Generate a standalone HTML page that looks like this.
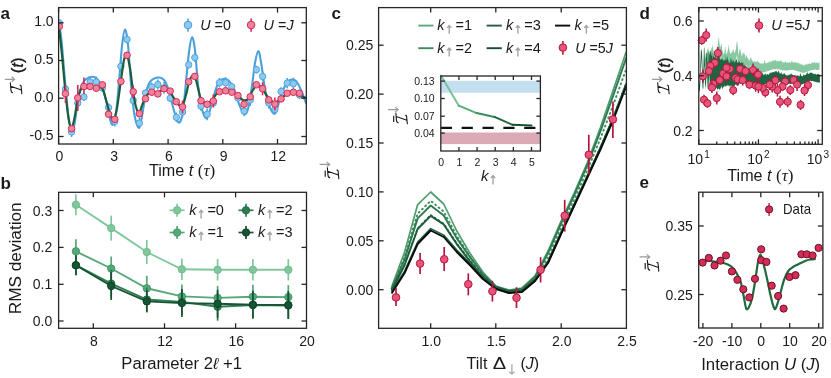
<!DOCTYPE html>
<html><head><meta charset="utf-8"><style>
html,body{margin:0;padding:0;background:#fff;width:831px;height:378px;overflow:hidden}
svg{display:block;font-family:"Liberation Sans",sans-serif}
</style></head><body>
<svg width="831" height="378" viewBox="0 0 831 378">
<rect width="831" height="378" fill="#fff"/>
<g style="opacity:0.999">
<text x="0.5" y="18.6" font-size="17" text-anchor="start" fill="#1a1a1a" font-weight="bold">a</text>
<text x="0.5" y="188.6" font-size="17" text-anchor="start" fill="#1a1a1a" font-weight="bold">b</text>
<text x="331.5" y="18.8" font-size="17" text-anchor="start" fill="#1a1a1a" font-weight="bold">c</text>
<text x="639.5" y="18.8" font-size="17" text-anchor="start" fill="#1a1a1a" font-weight="bold">d</text>
<text x="639.5" y="188" font-size="17" text-anchor="start" fill="#1a1a1a" font-weight="bold">e</text>
<clipPath id="ca"><rect x="58.6" y="7.6" width="247.7" height="136.4"/></clipPath><g clip-path="url(#ca)">
<path d="M58.6,21 C59.08,24.17 60.37,29.17 61.5,40 C62.63,50.83 64.23,73.17 65.4,86 C66.57,98.83 67.48,109.33 68.5,117 C69.52,124.67 70.5,130.83 71.5,132 C72.5,133.17 73.5,128.67 74.5,124 C75.5,119.33 76.5,109.83 77.5,104 C78.5,98.17 79.42,92.83 80.5,89 C81.58,85.17 82.58,82.92 84,81 C85.42,79.08 87.33,78.17 89,77.5 C90.67,76.83 92.5,76.58 94,77 C95.5,77.42 96.67,78.5 98,80 C99.33,81.5 100.67,82.67 102,86 C103.33,89.33 104.83,95.17 106,100 C107.17,104.83 107.92,110.83 109,115 C110.08,119.17 111.33,125.33 112.5,125 C113.67,124.67 114.92,120.17 116,113 C117.08,105.83 118,93.17 119,82 C120,70.83 121,54.75 122,46 C123,37.25 124,29.67 125,29.5 C126,29.33 127,35.92 128,45 C129,54.08 130,72.83 131,84 C132,95.17 133,105.17 134,112 C135,118.83 136.08,122.5 137,125 C137.92,127.5 138.67,128.5 139.5,127 C140.33,125.5 140.92,121.67 142,116 C143.08,110.33 144.67,98.67 146,93 C147.33,87.33 148,84.58 150,82 C152,79.42 155.67,77.83 158,77.5 C160.33,77.17 162.17,77.75 164,80 C165.83,82.25 167.5,86.5 169,91 C170.5,95.5 171.67,102.17 173,107 C174.33,111.83 175.83,117.5 177,120 C178.17,122.5 179,123.5 180,122 C181,120.5 182,117.67 183,111 C184,104.33 185,91.83 186,82 C187,72.17 188,59.45 189,52 C190,44.55 191,37.63 192,37.3 C193,36.97 194,42.22 195,50 C196,57.78 196.83,74.17 198,84 C199.17,93.83 200.67,103.33 202,109 C203.33,114.67 204.83,117.33 206,118 C207.17,118.67 207.83,116.17 209,113 C210.17,109.83 211.67,103.5 213,99 C214.33,94.5 215.5,89.25 217,86 C218.5,82.75 220.17,80.5 222,79.5 C223.83,78.5 226,78.42 228,80 C230,81.58 232.17,85 234,89 C235.83,93 237.33,99.83 239,104 C240.67,108.17 242.5,113.17 244,114 C245.5,114.83 246.67,113.67 248,109 C249.33,104.33 250.83,93.67 252,86 C253.17,78.33 253.95,68.83 255,63 C256.05,57.17 257.3,51.17 258.3,51 C259.3,50.83 259.88,55.67 261,62 C262.12,68.33 263.67,81.83 265,89 C266.33,96.17 267.67,101 269,105 C270.33,109 271.83,111.83 273,113 C274.17,114.17 274.83,114.33 276,112 C277.17,109.67 278.5,103.33 280,99 C281.5,94.67 283.33,89.17 285,86 C286.67,82.83 288.17,80.83 290,80 C291.83,79.17 294.17,79.33 296,81 C297.83,82.67 299.28,86.17 301,90 C302.72,93.83 305.42,101.67 306.3,104" fill="none" stroke="#4aa0da" stroke-width="2.1" stroke-linejoin="round"/>
<line x1="59.3" y1="19.5" x2="59.3" y2="26.5" stroke="#4aa0da" stroke-width="1.5" />
<circle cx="59.3" cy="23" r="3.2" fill="#8dcaf0" stroke="#4a9fdc" stroke-width="0.9"/>
<line x1="65.46" y1="84.7" x2="65.46" y2="93.3" stroke="#4aa0da" stroke-width="1.5" />
<circle cx="65.46" cy="89" r="3.2" fill="#8dcaf0" stroke="#4a9fdc" stroke-width="0.9"/>
<line x1="71.62" y1="126.9" x2="71.62" y2="137.1" stroke="#4aa0da" stroke-width="1.5" />
<circle cx="71.62" cy="132" r="3.2" fill="#8dcaf0" stroke="#4a9fdc" stroke-width="0.9"/>
<line x1="77.78" y1="97.1" x2="77.78" y2="108.9" stroke="#4aa0da" stroke-width="1.5" />
<circle cx="77.78" cy="103" r="3.2" fill="#8dcaf0" stroke="#4a9fdc" stroke-width="0.9"/>
<line x1="83.94" y1="93.1" x2="83.94" y2="100.9" stroke="#4aa0da" stroke-width="1.5" />
<circle cx="83.94" cy="97" r="3.2" fill="#8dcaf0" stroke="#4a9fdc" stroke-width="0.9"/>
<line x1="90.1" y1="77.3" x2="90.1" y2="86.7" stroke="#4aa0da" stroke-width="1.5" />
<circle cx="90.1" cy="82" r="3.2" fill="#8dcaf0" stroke="#4a9fdc" stroke-width="0.9"/>
<line x1="96.26" y1="76.5" x2="96.26" y2="87.5" stroke="#4aa0da" stroke-width="1.5" />
<circle cx="96.26" cy="82" r="3.2" fill="#8dcaf0" stroke="#4a9fdc" stroke-width="0.9"/>
<line x1="102.42" y1="84.5" x2="102.42" y2="91.5" stroke="#4aa0da" stroke-width="1.5" />
<circle cx="102.42" cy="88" r="3.2" fill="#8dcaf0" stroke="#4a9fdc" stroke-width="0.9"/>
<line x1="108.58" y1="103.3" x2="108.58" y2="111.9" stroke="#4aa0da" stroke-width="1.5" />
<circle cx="108.58" cy="107.6" r="3.2" fill="#8dcaf0" stroke="#4a9fdc" stroke-width="0.9"/>
<line x1="114.74" y1="116.3" x2="114.74" y2="126.5" stroke="#4aa0da" stroke-width="1.5" />
<circle cx="114.74" cy="121.4" r="3.2" fill="#8dcaf0" stroke="#4a9fdc" stroke-width="0.9"/>
<line x1="120.9" y1="60.5" x2="120.9" y2="72.3" stroke="#4aa0da" stroke-width="1.5" />
<circle cx="120.9" cy="66.4" r="3.2" fill="#8dcaf0" stroke="#4a9fdc" stroke-width="0.9"/>
<line x1="127.06" y1="35.5" x2="127.06" y2="43.3" stroke="#4aa0da" stroke-width="1.5" />
<circle cx="127.06" cy="39.4" r="3.2" fill="#8dcaf0" stroke="#4a9fdc" stroke-width="0.9"/>
<line x1="133.22" y1="95.7" x2="133.22" y2="105.1" stroke="#4aa0da" stroke-width="1.5" />
<circle cx="133.22" cy="100.4" r="3.2" fill="#8dcaf0" stroke="#4a9fdc" stroke-width="0.9"/>
<line x1="139.38" y1="117.6" x2="139.38" y2="128.6" stroke="#4aa0da" stroke-width="1.5" />
<circle cx="139.38" cy="123.1" r="3.2" fill="#8dcaf0" stroke="#4a9fdc" stroke-width="0.9"/>
<line x1="145.54" y1="89.5" x2="145.54" y2="96.5" stroke="#4aa0da" stroke-width="1.5" />
<circle cx="145.54" cy="93" r="3.2" fill="#8dcaf0" stroke="#4a9fdc" stroke-width="0.9"/>
<line x1="151.7" y1="82.7" x2="151.7" y2="91.3" stroke="#4aa0da" stroke-width="1.5" />
<circle cx="151.7" cy="87" r="3.2" fill="#8dcaf0" stroke="#4a9fdc" stroke-width="0.9"/>
<line x1="157.86" y1="79.4" x2="157.86" y2="89.6" stroke="#4aa0da" stroke-width="1.5" />
<circle cx="157.86" cy="84.5" r="3.2" fill="#8dcaf0" stroke="#4a9fdc" stroke-width="0.9"/>
<line x1="164.02" y1="82" x2="164.02" y2="93.8" stroke="#4aa0da" stroke-width="1.5" />
<circle cx="164.02" cy="87.9" r="3.2" fill="#8dcaf0" stroke="#4a9fdc" stroke-width="0.9"/>
<line x1="170.18" y1="94.3" x2="170.18" y2="102.1" stroke="#4aa0da" stroke-width="1.5" />
<circle cx="170.18" cy="98.2" r="3.2" fill="#8dcaf0" stroke="#4a9fdc" stroke-width="0.9"/>
<line x1="176.34" y1="112.6" x2="176.34" y2="122" stroke="#4aa0da" stroke-width="1.5" />
<circle cx="176.34" cy="117.3" r="3.2" fill="#8dcaf0" stroke="#4a9fdc" stroke-width="0.9"/>
<line x1="182.5" y1="106.5" x2="182.5" y2="117.5" stroke="#4aa0da" stroke-width="1.5" />
<circle cx="182.5" cy="112" r="3.2" fill="#8dcaf0" stroke="#4a9fdc" stroke-width="0.9"/>
<line x1="188.66" y1="61.3" x2="188.66" y2="68.3" stroke="#4aa0da" stroke-width="1.5" />
<circle cx="188.66" cy="64.8" r="3.2" fill="#8dcaf0" stroke="#4a9fdc" stroke-width="0.9"/>
<line x1="194.82" y1="53.3" x2="194.82" y2="61.9" stroke="#4aa0da" stroke-width="1.5" />
<circle cx="194.82" cy="57.6" r="3.2" fill="#8dcaf0" stroke="#4a9fdc" stroke-width="0.9"/>
<line x1="200.98" y1="100.9" x2="200.98" y2="111.1" stroke="#4aa0da" stroke-width="1.5" />
<circle cx="200.98" cy="106" r="3.2" fill="#8dcaf0" stroke="#4a9fdc" stroke-width="0.9"/>
<line x1="207.14" y1="108.4" x2="207.14" y2="120.2" stroke="#4aa0da" stroke-width="1.5" />
<circle cx="207.14" cy="114.3" r="3.2" fill="#8dcaf0" stroke="#4a9fdc" stroke-width="0.9"/>
<line x1="213.3" y1="99.1" x2="213.3" y2="106.9" stroke="#4aa0da" stroke-width="1.5" />
<circle cx="213.3" cy="103" r="3.2" fill="#8dcaf0" stroke="#4a9fdc" stroke-width="0.9"/>
<line x1="219.46" y1="78" x2="219.46" y2="87.4" stroke="#4aa0da" stroke-width="1.5" />
<circle cx="219.46" cy="82.7" r="3.2" fill="#8dcaf0" stroke="#4a9fdc" stroke-width="0.9"/>
<line x1="225.62" y1="77.2" x2="225.62" y2="88.2" stroke="#4aa0da" stroke-width="1.5" />
<circle cx="225.62" cy="82.7" r="3.2" fill="#8dcaf0" stroke="#4a9fdc" stroke-width="0.9"/>
<line x1="231.78" y1="83.2" x2="231.78" y2="90.2" stroke="#4aa0da" stroke-width="1.5" />
<circle cx="231.78" cy="86.7" r="3.2" fill="#8dcaf0" stroke="#4a9fdc" stroke-width="0.9"/>
<line x1="237.94" y1="93.7" x2="237.94" y2="102.3" stroke="#4aa0da" stroke-width="1.5" />
<circle cx="237.94" cy="98" r="3.2" fill="#8dcaf0" stroke="#4a9fdc" stroke-width="0.9"/>
<line x1="244.1" y1="106" x2="244.1" y2="116.2" stroke="#4aa0da" stroke-width="1.5" />
<circle cx="244.1" cy="111.1" r="3.2" fill="#8dcaf0" stroke="#4a9fdc" stroke-width="0.9"/>
<line x1="250.26" y1="94.1" x2="250.26" y2="105.9" stroke="#4aa0da" stroke-width="1.5" />
<circle cx="250.26" cy="100" r="3.2" fill="#8dcaf0" stroke="#4a9fdc" stroke-width="0.9"/>
<line x1="256.42" y1="65.7" x2="256.42" y2="73.5" stroke="#4aa0da" stroke-width="1.5" />
<circle cx="256.42" cy="69.6" r="3.2" fill="#8dcaf0" stroke="#4a9fdc" stroke-width="0.9"/>
<line x1="262.58" y1="71.8" x2="262.58" y2="81.2" stroke="#4aa0da" stroke-width="1.5" />
<circle cx="262.58" cy="76.5" r="3.2" fill="#8dcaf0" stroke="#4a9fdc" stroke-width="0.9"/>
<line x1="268.74" y1="97.5" x2="268.74" y2="108.5" stroke="#4aa0da" stroke-width="1.5" />
<circle cx="268.74" cy="103" r="3.2" fill="#8dcaf0" stroke="#4a9fdc" stroke-width="0.9"/>
<line x1="274.9" y1="105.9" x2="274.9" y2="112.9" stroke="#4aa0da" stroke-width="1.5" />
<circle cx="274.9" cy="109.4" r="3.2" fill="#8dcaf0" stroke="#4a9fdc" stroke-width="0.9"/>
<line x1="281.06" y1="87.2" x2="281.06" y2="95.8" stroke="#4aa0da" stroke-width="1.5" />
<circle cx="281.06" cy="91.5" r="3.2" fill="#8dcaf0" stroke="#4a9fdc" stroke-width="0.9"/>
<line x1="287.22" y1="78" x2="287.22" y2="88.2" stroke="#4aa0da" stroke-width="1.5" />
<circle cx="287.22" cy="83.1" r="3.2" fill="#8dcaf0" stroke="#4a9fdc" stroke-width="0.9"/>
<line x1="293.38" y1="77.8" x2="293.38" y2="89.6" stroke="#4aa0da" stroke-width="1.5" />
<circle cx="293.38" cy="83.7" r="3.2" fill="#8dcaf0" stroke="#4a9fdc" stroke-width="0.9"/>
<line x1="299.54" y1="91.1" x2="299.54" y2="98.9" stroke="#4aa0da" stroke-width="1.5" />
<circle cx="299.54" cy="95" r="3.2" fill="#8dcaf0" stroke="#4a9fdc" stroke-width="0.9"/>
<path d="M58.6,24 C59.17,29.17 60.87,43.67 62,55 C63.13,66.33 64.32,81.5 65.4,92 C66.48,102.5 67.48,112 68.5,118 C69.52,124 70.5,128 71.5,128 C72.5,128 73.5,122.67 74.5,118 C75.5,113.33 76.5,104.67 77.5,100 C78.5,95.33 79.42,92.25 80.5,90 C81.58,87.75 82.42,87.17 84,86.5 C85.58,85.83 88,85.83 90,86 C92,86.17 94,87.17 96,87.5 C98,87.83 100.33,85.92 102,88 C103.67,90.08 104.67,95.67 106,100 C107.33,104.33 108.67,110.83 110,114 C111.33,117.17 112.83,120 114,119 C115.17,118 115.83,114.5 117,108 C118.17,101.5 119.83,88 121,80 C122.17,72 123.03,64.17 124,60 C124.97,55.83 125.8,53.67 126.8,55 C127.8,56.33 128.97,62 130,68 C131.03,74 132,84.5 133,91 C134,97.5 134.97,103.42 136,107 C137.03,110.58 138.03,113.17 139.2,112.5 C140.37,111.83 141.7,105.92 143,103 C144.3,100.08 145.5,96.83 147,95 C148.5,93.17 150.17,92.5 152,92 C153.83,91.5 156,92.33 158,92 C160,91.67 162,90 164,90 C166,90 168.17,90.33 170,92 C171.83,93.67 173.5,97.83 175,100 C176.5,102.17 177.75,104.08 179,105 C180.25,105.92 181.33,107.17 182.5,105.5 C183.67,103.83 184.92,98.92 186,95 C187.08,91.08 188,85.17 189,82 C190,78.83 191,76.83 192,76 C193,75.17 194,75 195,77 C196,79 197,84.33 198,88 C199,91.67 199.67,96.42 201,99 C202.33,101.58 204.17,103.33 206,103.5 C207.83,103.67 210,101.92 212,100 C214,98.08 215.83,93.67 218,92 C220.17,90.33 222.67,90 225,90 C227.33,90 229.83,91 232,92 C234.17,93 236.17,94.67 238,96 C239.83,97.33 241.33,99.5 243,100 C244.67,100.5 246.33,100.67 248,99 C249.67,97.33 251.5,92.33 253,90 C254.5,87.67 255.5,85.33 257,85 C258.5,84.67 260.33,86.17 262,88 C263.67,89.83 265.17,93.67 267,96 C268.83,98.33 271.17,101.17 273,102 C274.83,102.83 276.17,102 278,101 C279.83,100 282,97.33 284,96 C286,94.67 288,93.33 290,93 C292,92.67 293.28,93.17 296,94 C298.72,94.83 304.58,97.33 306.3,98" fill="none" stroke="#1b5e3b" stroke-width="2.2" stroke-linejoin="round"/>
<line x1="59.3" y1="23.5" x2="59.3" y2="29.5" stroke="#d42a5a" stroke-width="1.6" />
<circle cx="59.3" cy="26.5" r="3.3" fill="#f0839a" stroke="#d42a5a" stroke-width="1.0"/>
<line x1="65.46" y1="85" x2="65.46" y2="103" stroke="#d42a5a" stroke-width="1.6" />
<circle cx="65.46" cy="93.6" r="3.3" fill="#f0839a" stroke="#d42a5a" stroke-width="1.0"/>
<line x1="71.62" y1="125.6" x2="71.62" y2="131.6" stroke="#d42a5a" stroke-width="1.6" />
<circle cx="71.62" cy="128.6" r="3.3" fill="#f0839a" stroke="#d42a5a" stroke-width="1.0"/>
<line x1="77.78" y1="85" x2="77.78" y2="111" stroke="#d42a5a" stroke-width="1.6" />
<circle cx="77.78" cy="97.9" r="3.3" fill="#f0839a" stroke="#d42a5a" stroke-width="1.0"/>
<line x1="83.94" y1="77.6" x2="83.94" y2="93.9" stroke="#d42a5a" stroke-width="1.6" />
<circle cx="83.94" cy="86.5" r="3.3" fill="#f0839a" stroke="#d42a5a" stroke-width="1.0"/>
<line x1="90.1" y1="83.5" x2="90.1" y2="89.5" stroke="#d42a5a" stroke-width="1.6" />
<circle cx="90.1" cy="86.5" r="3.3" fill="#f0839a" stroke="#d42a5a" stroke-width="1.0"/>
<line x1="96.26" y1="85.2" x2="96.26" y2="91.2" stroke="#d42a5a" stroke-width="1.6" />
<circle cx="96.26" cy="88.2" r="3.3" fill="#f0839a" stroke="#d42a5a" stroke-width="1.0"/>
<line x1="102.42" y1="81.8" x2="102.42" y2="87.8" stroke="#d42a5a" stroke-width="1.6" />
<circle cx="102.42" cy="84.8" r="3.3" fill="#f0839a" stroke="#d42a5a" stroke-width="1.0"/>
<line x1="108.58" y1="111.2" x2="108.58" y2="117.2" stroke="#d42a5a" stroke-width="1.6" />
<circle cx="108.58" cy="114.2" r="3.3" fill="#f0839a" stroke="#d42a5a" stroke-width="1.0"/>
<line x1="114.74" y1="116.3" x2="114.74" y2="122.3" stroke="#d42a5a" stroke-width="1.6" />
<circle cx="114.74" cy="119.3" r="3.3" fill="#f0839a" stroke="#d42a5a" stroke-width="1.0"/>
<line x1="120.9" y1="78.4" x2="120.9" y2="84.4" stroke="#d42a5a" stroke-width="1.6" />
<circle cx="120.9" cy="81.4" r="3.3" fill="#f0839a" stroke="#d42a5a" stroke-width="1.0"/>
<line x1="127.06" y1="52.3" x2="127.06" y2="58.3" stroke="#d42a5a" stroke-width="1.6" />
<circle cx="127.06" cy="55.3" r="3.3" fill="#f0839a" stroke="#d42a5a" stroke-width="1.0"/>
<line x1="133.22" y1="85.2" x2="133.22" y2="98.2" stroke="#d42a5a" stroke-width="1.6" />
<circle cx="133.22" cy="91.7" r="3.3" fill="#f0839a" stroke="#d42a5a" stroke-width="1.0"/>
<line x1="139.38" y1="110.7" x2="139.38" y2="116.7" stroke="#d42a5a" stroke-width="1.6" />
<circle cx="139.38" cy="113.7" r="3.3" fill="#f0839a" stroke="#d42a5a" stroke-width="1.0"/>
<line x1="145.54" y1="95.7" x2="145.54" y2="101.7" stroke="#d42a5a" stroke-width="1.6" />
<circle cx="145.54" cy="98.7" r="3.3" fill="#f0839a" stroke="#d42a5a" stroke-width="1.0"/>
<line x1="151.7" y1="89.2" x2="151.7" y2="95.2" stroke="#d42a5a" stroke-width="1.6" />
<circle cx="151.7" cy="92.2" r="3.3" fill="#f0839a" stroke="#d42a5a" stroke-width="1.0"/>
<line x1="157.86" y1="90.9" x2="157.86" y2="96.9" stroke="#d42a5a" stroke-width="1.6" />
<circle cx="157.86" cy="93.9" r="3.3" fill="#f0839a" stroke="#d42a5a" stroke-width="1.0"/>
<line x1="164.02" y1="85.7" x2="164.02" y2="91.7" stroke="#d42a5a" stroke-width="1.6" />
<circle cx="164.02" cy="88.7" r="3.3" fill="#f0839a" stroke="#d42a5a" stroke-width="1.0"/>
<line x1="170.18" y1="88.1" x2="170.18" y2="94.1" stroke="#d42a5a" stroke-width="1.6" />
<circle cx="170.18" cy="91.1" r="3.3" fill="#f0839a" stroke="#d42a5a" stroke-width="1.0"/>
<line x1="176.34" y1="98.7" x2="176.34" y2="104.7" stroke="#d42a5a" stroke-width="1.6" />
<circle cx="176.34" cy="101.7" r="3.3" fill="#f0839a" stroke="#d42a5a" stroke-width="1.0"/>
<line x1="182.5" y1="100.4" x2="182.5" y2="113.4" stroke="#d42a5a" stroke-width="1.6" />
<circle cx="182.5" cy="106.9" r="3.3" fill="#f0839a" stroke="#d42a5a" stroke-width="1.0"/>
<line x1="188.66" y1="78.8" x2="188.66" y2="84.8" stroke="#d42a5a" stroke-width="1.6" />
<circle cx="188.66" cy="81.8" r="3.3" fill="#f0839a" stroke="#d42a5a" stroke-width="1.0"/>
<line x1="194.82" y1="73.4" x2="194.82" y2="79.4" stroke="#d42a5a" stroke-width="1.6" />
<circle cx="194.82" cy="76.4" r="3.3" fill="#f0839a" stroke="#d42a5a" stroke-width="1.0"/>
<line x1="200.98" y1="97.7" x2="200.98" y2="103.7" stroke="#d42a5a" stroke-width="1.6" />
<circle cx="200.98" cy="100.7" r="3.3" fill="#f0839a" stroke="#d42a5a" stroke-width="1.0"/>
<line x1="207.14" y1="101.3" x2="207.14" y2="107.3" stroke="#d42a5a" stroke-width="1.6" />
<circle cx="207.14" cy="104.3" r="3.3" fill="#f0839a" stroke="#d42a5a" stroke-width="1.0"/>
<line x1="213.3" y1="94.6" x2="213.3" y2="107.6" stroke="#d42a5a" stroke-width="1.6" />
<circle cx="213.3" cy="101.1" r="3.3" fill="#f0839a" stroke="#d42a5a" stroke-width="1.0"/>
<line x1="219.46" y1="88.7" x2="219.46" y2="94.7" stroke="#d42a5a" stroke-width="1.6" />
<circle cx="219.46" cy="91.7" r="3.3" fill="#f0839a" stroke="#d42a5a" stroke-width="1.0"/>
<line x1="225.62" y1="87.8" x2="225.62" y2="93.8" stroke="#d42a5a" stroke-width="1.6" />
<circle cx="225.62" cy="90.8" r="3.3" fill="#f0839a" stroke="#d42a5a" stroke-width="1.0"/>
<line x1="231.78" y1="89.2" x2="231.78" y2="95.2" stroke="#d42a5a" stroke-width="1.6" />
<circle cx="231.78" cy="92.2" r="3.3" fill="#f0839a" stroke="#d42a5a" stroke-width="1.0"/>
<line x1="237.94" y1="92.6" x2="237.94" y2="98.6" stroke="#d42a5a" stroke-width="1.6" />
<circle cx="237.94" cy="95.6" r="3.3" fill="#f0839a" stroke="#d42a5a" stroke-width="1.0"/>
<line x1="244.1" y1="101.2" x2="244.1" y2="107.2" stroke="#d42a5a" stroke-width="1.6" />
<circle cx="244.1" cy="104.2" r="3.3" fill="#f0839a" stroke="#d42a5a" stroke-width="1.0"/>
<line x1="250.26" y1="93.8" x2="250.26" y2="99.8" stroke="#d42a5a" stroke-width="1.6" />
<circle cx="250.26" cy="96.8" r="3.3" fill="#f0839a" stroke="#d42a5a" stroke-width="1.0"/>
<line x1="256.42" y1="81.8" x2="256.42" y2="87.8" stroke="#d42a5a" stroke-width="1.6" />
<circle cx="256.42" cy="84.8" r="3.3" fill="#f0839a" stroke="#d42a5a" stroke-width="1.0"/>
<line x1="262.58" y1="82.2" x2="262.58" y2="95.2" stroke="#d42a5a" stroke-width="1.6" />
<circle cx="262.58" cy="88.7" r="3.3" fill="#f0839a" stroke="#d42a5a" stroke-width="1.0"/>
<line x1="268.74" y1="96.9" x2="268.74" y2="102.9" stroke="#d42a5a" stroke-width="1.6" />
<circle cx="268.74" cy="99.9" r="3.3" fill="#f0839a" stroke="#d42a5a" stroke-width="1.0"/>
<line x1="274.9" y1="97.6" x2="274.9" y2="110.6" stroke="#d42a5a" stroke-width="1.6" />
<circle cx="274.9" cy="104.1" r="3.3" fill="#f0839a" stroke="#d42a5a" stroke-width="1.0"/>
<line x1="281.06" y1="95.9" x2="281.06" y2="101.9" stroke="#d42a5a" stroke-width="1.6" />
<circle cx="281.06" cy="98.9" r="3.3" fill="#f0839a" stroke="#d42a5a" stroke-width="1.0"/>
<line x1="287.22" y1="90.2" x2="287.22" y2="96.2" stroke="#d42a5a" stroke-width="1.6" />
<circle cx="287.22" cy="93.2" r="3.3" fill="#f0839a" stroke="#d42a5a" stroke-width="1.0"/>
<line x1="293.38" y1="89.3" x2="293.38" y2="95.3" stroke="#d42a5a" stroke-width="1.6" />
<circle cx="293.38" cy="92.3" r="3.3" fill="#f0839a" stroke="#d42a5a" stroke-width="1.0"/>
<line x1="299.54" y1="90.3" x2="299.54" y2="96.3" stroke="#d42a5a" stroke-width="1.6" />
<circle cx="299.54" cy="93.3" r="3.3" fill="#f0839a" stroke="#d42a5a" stroke-width="1.0"/>
</g>
<rect x="58.6" y="7.6" width="247.7" height="136.4" fill="none" stroke="#262626" stroke-width="1.3"/>
<line x1="58.6" y1="144" x2="58.6" y2="139" stroke="#262626" stroke-width="1.3" />
<line x1="58.6" y1="7.6" x2="58.6" y2="12.6" stroke="#262626" stroke-width="1.3" />
<line x1="113.3" y1="144" x2="113.3" y2="139" stroke="#262626" stroke-width="1.3" />
<line x1="113.3" y1="7.6" x2="113.3" y2="12.6" stroke="#262626" stroke-width="1.3" />
<line x1="168.1" y1="144" x2="168.1" y2="139" stroke="#262626" stroke-width="1.3" />
<line x1="168.1" y1="7.6" x2="168.1" y2="12.6" stroke="#262626" stroke-width="1.3" />
<line x1="222.8" y1="144" x2="222.8" y2="139" stroke="#262626" stroke-width="1.3" />
<line x1="222.8" y1="7.6" x2="222.8" y2="12.6" stroke="#262626" stroke-width="1.3" />
<line x1="277.5" y1="144" x2="277.5" y2="139" stroke="#262626" stroke-width="1.3" />
<line x1="277.5" y1="7.6" x2="277.5" y2="12.6" stroke="#262626" stroke-width="1.3" />
<line x1="58.6" y1="22.8" x2="63.6" y2="22.8" stroke="#262626" stroke-width="1.3" />
<line x1="306.3" y1="22.8" x2="301.3" y2="22.8" stroke="#262626" stroke-width="1.3" />
<line x1="58.6" y1="60.5" x2="63.6" y2="60.5" stroke="#262626" stroke-width="1.3" />
<line x1="306.3" y1="60.5" x2="301.3" y2="60.5" stroke="#262626" stroke-width="1.3" />
<line x1="58.6" y1="98.2" x2="63.6" y2="98.2" stroke="#262626" stroke-width="1.3" />
<line x1="306.3" y1="98.2" x2="301.3" y2="98.2" stroke="#262626" stroke-width="1.3" />
<line x1="58.6" y1="136.5" x2="63.6" y2="136.5" stroke="#262626" stroke-width="1.3" />
<line x1="306.3" y1="136.5" x2="301.3" y2="136.5" stroke="#262626" stroke-width="1.3" />
<text x="53.6" y="26.4" font-size="14" text-anchor="end" fill="#1a1a1a" >1.0</text>
<text x="53.6" y="64.1" font-size="14" text-anchor="end" fill="#1a1a1a" >0.5</text>
<text x="53.6" y="101.8" font-size="14" text-anchor="end" fill="#1a1a1a" >0.0</text>
<text x="53.6" y="140.1" font-size="14" text-anchor="end" fill="#1a1a1a" >-0.5</text>
<text x="59.4" y="161.2" font-size="14" text-anchor="middle" fill="#1a1a1a" >0</text>
<text x="114.1" y="161.2" font-size="14" text-anchor="middle" fill="#1a1a1a" >3</text>
<text x="168.9" y="161.2" font-size="14" text-anchor="middle" fill="#1a1a1a" >6</text>
<text x="223.6" y="161.2" font-size="14" text-anchor="middle" fill="#1a1a1a" >9</text>
<text x="278.3" y="161.2" font-size="14" text-anchor="middle" fill="#1a1a1a" >12</text>
<text x="149" y="176.3" font-size="16" text-anchor="start" fill="#1a1a1a" textLength="66.3" lengthAdjust="spacingAndGlyphs" >Time <tspan font-style="italic">t</tspan> <tspan font-family="Liberation Serif" font-size="17">(<tspan font-style="italic">τ</tspan>)</tspan></text>
<line x1="188" y1="18.4" x2="188" y2="31.8" stroke="#4aa0da" stroke-width="1.6" />
<circle cx="188" cy="25" r="3.8" fill="#8dcaf0" stroke="#4a9fdc" stroke-width="1"/>
<text x="200.3" y="29.8" font-size="15" text-anchor="start" fill="#1a1a1a" textLength="30.6" lengthAdjust="spacingAndGlyphs" ><tspan font-style="italic">U</tspan> =0</text>
<line x1="251.1" y1="18.4" x2="251.1" y2="31.8" stroke="#d42a5a" stroke-width="1.6" />
<circle cx="251.1" cy="25" r="3.8" fill="#f0839a" stroke="#d42a5a" stroke-width="1"/>
<text x="263.6" y="29.8" font-size="15" text-anchor="start" fill="#1a1a1a" textLength="30" lengthAdjust="spacingAndGlyphs" ><tspan font-style="italic">U</tspan> =<tspan font-style="italic">J</tspan></text>
<g transform="translate(22,93.7) rotate(-90)">
<path d="M1,-9.3 C1.2,-10.6 2.5,-11 4,-11.1 L10.8,-11.6 M7.4,-11.3 L3.6,-0.6 M0,-0.2 L7.6,-0.9 C8.3,-1 8.6,-1.5 8.5,-2" transform="translate(0,0) scale(1.0)" fill="none" stroke="#1a1a1a" stroke-width="1.1" stroke-linecap="round"/>
<path d="M14.4,-17.2 L14.4,-7.4 M11.9,-10.4 L14.4,-7.4 L16.9,-10.4" fill="none" stroke="#9a9a9a" stroke-width="1.2"/>
<text x="20.4" y="0.6" font-size="17" text-anchor="start" fill="#1a1a1a" stroke="#1a1a1a" stroke-width="0.35">(<tspan font-style="italic">t</tspan>)</text>
</g>
<path d="M75.9,204.8 L111.2,228.1 L146.8,252 L181.9,269.3 L217.6,269.8 L252.9,269.8 L288.3,269.8" fill="none" stroke="#80c89c" stroke-width="1.9"/>
<line x1="75.9" y1="194.3" x2="75.9" y2="215.3" stroke="#80c89c" stroke-width="1.7" />
<circle cx="75.9" cy="204.8" r="3.7" fill="#80c89c" stroke="#6bb98a" stroke-width="0.9"/>
<line x1="111.2" y1="215.6" x2="111.2" y2="240.6" stroke="#80c89c" stroke-width="1.7" />
<circle cx="111.2" cy="228.1" r="3.7" fill="#80c89c" stroke="#6bb98a" stroke-width="0.9"/>
<line x1="146.8" y1="240" x2="146.8" y2="264" stroke="#80c89c" stroke-width="1.7" />
<circle cx="146.8" cy="252" r="3.7" fill="#80c89c" stroke="#6bb98a" stroke-width="0.9"/>
<line x1="181.9" y1="258.6" x2="181.9" y2="280" stroke="#80c89c" stroke-width="1.7" />
<circle cx="181.9" cy="269.3" r="3.7" fill="#80c89c" stroke="#6bb98a" stroke-width="0.9"/>
<line x1="217.6" y1="259.1" x2="217.6" y2="280.5" stroke="#80c89c" stroke-width="1.7" />
<circle cx="217.6" cy="269.8" r="3.7" fill="#80c89c" stroke="#6bb98a" stroke-width="0.9"/>
<line x1="252.9" y1="259.1" x2="252.9" y2="280.5" stroke="#80c89c" stroke-width="1.7" />
<circle cx="252.9" cy="269.8" r="3.7" fill="#80c89c" stroke="#6bb98a" stroke-width="0.9"/>
<line x1="288.3" y1="259.1" x2="288.3" y2="280.5" stroke="#80c89c" stroke-width="1.7" />
<circle cx="288.3" cy="269.8" r="3.7" fill="#80c89c" stroke="#6bb98a" stroke-width="0.9"/>
<path d="M75.9,251.3 L111.2,268.5 L146.8,288.3 L181.9,296.4 L217.6,297.9 L252.9,296.7 L288.3,297.1" fill="none" stroke="#55a878" stroke-width="1.9"/>
<line x1="75.9" y1="239.3" x2="75.9" y2="263.3" stroke="#55a878" stroke-width="1.7" />
<circle cx="75.9" cy="251.3" r="3.7" fill="#55a878" stroke="#3f9566" stroke-width="0.9"/>
<line x1="111.2" y1="256.5" x2="111.2" y2="280.5" stroke="#55a878" stroke-width="1.7" />
<circle cx="111.2" cy="268.5" r="3.7" fill="#55a878" stroke="#3f9566" stroke-width="0.9"/>
<line x1="146.8" y1="275.8" x2="146.8" y2="300.8" stroke="#55a878" stroke-width="1.7" />
<circle cx="146.8" cy="288.3" r="3.7" fill="#55a878" stroke="#3f9566" stroke-width="0.9"/>
<line x1="181.9" y1="284.4" x2="181.9" y2="308.4" stroke="#55a878" stroke-width="1.7" />
<circle cx="181.9" cy="296.4" r="3.7" fill="#55a878" stroke="#3f9566" stroke-width="0.9"/>
<line x1="217.6" y1="285.9" x2="217.6" y2="309.9" stroke="#55a878" stroke-width="1.7" />
<circle cx="217.6" cy="297.9" r="3.7" fill="#55a878" stroke="#3f9566" stroke-width="0.9"/>
<line x1="252.9" y1="284.7" x2="252.9" y2="308.7" stroke="#55a878" stroke-width="1.7" />
<circle cx="252.9" cy="296.7" r="3.7" fill="#55a878" stroke="#3f9566" stroke-width="0.9"/>
<line x1="288.3" y1="285.1" x2="288.3" y2="309.1" stroke="#55a878" stroke-width="1.7" />
<circle cx="288.3" cy="297.1" r="3.7" fill="#55a878" stroke="#3f9566" stroke-width="0.9"/>
<path d="M75.9,265.2 L111.2,283.6 L146.8,299.5 L181.9,301.9 L217.6,306.7 L252.9,305 L288.3,305.5" fill="none" stroke="#2e7d52" stroke-width="1.9"/>
<line x1="75.9" y1="255.2" x2="75.9" y2="275.2" stroke="#2e7d52" stroke-width="1.7" />
<circle cx="75.9" cy="265.2" r="3.7" fill="#2e7d52" stroke="#216a43" stroke-width="0.9"/>
<line x1="111.2" y1="269.6" x2="111.2" y2="297.6" stroke="#2e7d52" stroke-width="1.7" />
<circle cx="111.2" cy="283.6" r="3.7" fill="#2e7d52" stroke="#216a43" stroke-width="0.9"/>
<line x1="146.8" y1="287.5" x2="146.8" y2="311.5" stroke="#2e7d52" stroke-width="1.7" />
<circle cx="146.8" cy="299.5" r="3.7" fill="#2e7d52" stroke="#216a43" stroke-width="0.9"/>
<line x1="181.9" y1="288.9" x2="181.9" y2="314.9" stroke="#2e7d52" stroke-width="1.7" />
<circle cx="181.9" cy="301.9" r="3.7" fill="#2e7d52" stroke="#216a43" stroke-width="0.9"/>
<line x1="217.6" y1="292.7" x2="217.6" y2="320.7" stroke="#2e7d52" stroke-width="1.7" />
<circle cx="217.6" cy="306.7" r="3.7" fill="#2e7d52" stroke="#216a43" stroke-width="0.9"/>
<line x1="252.9" y1="292" x2="252.9" y2="318" stroke="#2e7d52" stroke-width="1.7" />
<circle cx="252.9" cy="305" r="3.7" fill="#2e7d52" stroke="#216a43" stroke-width="0.9"/>
<line x1="288.3" y1="292.5" x2="288.3" y2="318.5" stroke="#2e7d52" stroke-width="1.7" />
<circle cx="288.3" cy="305.5" r="3.7" fill="#2e7d52" stroke="#216a43" stroke-width="0.9"/>
<path d="M75.9,265.3 L111.2,286 L146.8,301.4 L181.9,303.1 L217.6,303.8 L252.9,304.8 L288.3,305" fill="none" stroke="#175433" stroke-width="1.9"/>
<line x1="75.9" y1="255.3" x2="75.9" y2="275.3" stroke="#175433" stroke-width="1.7" />
<circle cx="75.9" cy="265.3" r="3.7" fill="#175433" stroke="#0f4026" stroke-width="0.9"/>
<line x1="111.2" y1="272" x2="111.2" y2="300" stroke="#175433" stroke-width="1.7" />
<circle cx="111.2" cy="286" r="3.7" fill="#175433" stroke="#0f4026" stroke-width="0.9"/>
<line x1="146.8" y1="290.4" x2="146.8" y2="312.4" stroke="#175433" stroke-width="1.7" />
<circle cx="146.8" cy="301.4" r="3.7" fill="#175433" stroke="#0f4026" stroke-width="0.9"/>
<line x1="181.9" y1="289.1" x2="181.9" y2="317.1" stroke="#175433" stroke-width="1.7" />
<circle cx="181.9" cy="303.1" r="3.7" fill="#175433" stroke="#0f4026" stroke-width="0.9"/>
<line x1="217.6" y1="289.8" x2="217.6" y2="317.8" stroke="#175433" stroke-width="1.7" />
<circle cx="217.6" cy="303.8" r="3.7" fill="#175433" stroke="#0f4026" stroke-width="0.9"/>
<line x1="252.9" y1="290.8" x2="252.9" y2="318.8" stroke="#175433" stroke-width="1.7" />
<circle cx="252.9" cy="304.8" r="3.7" fill="#175433" stroke="#0f4026" stroke-width="0.9"/>
<line x1="288.3" y1="291" x2="288.3" y2="319" stroke="#175433" stroke-width="1.7" />
<circle cx="288.3" cy="305" r="3.7" fill="#175433" stroke="#0f4026" stroke-width="0.9"/>
<rect x="58.6" y="192.3" width="247.9" height="136" fill="none" stroke="#262626" stroke-width="1.3"/>
<line x1="93.3" y1="328.3" x2="93.3" y2="323.3" stroke="#262626" stroke-width="1.3" />
<line x1="93.3" y1="192.3" x2="93.3" y2="197.3" stroke="#262626" stroke-width="1.3" />
<line x1="164.5" y1="328.3" x2="164.5" y2="323.3" stroke="#262626" stroke-width="1.3" />
<line x1="164.5" y1="192.3" x2="164.5" y2="197.3" stroke="#262626" stroke-width="1.3" />
<line x1="235.6" y1="328.3" x2="235.6" y2="323.3" stroke="#262626" stroke-width="1.3" />
<line x1="235.6" y1="192.3" x2="235.6" y2="197.3" stroke="#262626" stroke-width="1.3" />
<line x1="58.6" y1="321" x2="63.6" y2="321" stroke="#262626" stroke-width="1.3" />
<line x1="306.5" y1="321" x2="301.5" y2="321" stroke="#262626" stroke-width="1.3" />
<line x1="58.6" y1="284.3" x2="63.6" y2="284.3" stroke="#262626" stroke-width="1.3" />
<line x1="306.5" y1="284.3" x2="301.5" y2="284.3" stroke="#262626" stroke-width="1.3" />
<line x1="58.6" y1="247.4" x2="63.6" y2="247.4" stroke="#262626" stroke-width="1.3" />
<line x1="306.5" y1="247.4" x2="301.5" y2="247.4" stroke="#262626" stroke-width="1.3" />
<line x1="58.6" y1="210.5" x2="63.6" y2="210.5" stroke="#262626" stroke-width="1.3" />
<line x1="306.5" y1="210.5" x2="301.5" y2="210.5" stroke="#262626" stroke-width="1.3" />
<text x="52.2" y="326" font-size="14" text-anchor="end" fill="#1a1a1a" >0.0</text>
<text x="52.2" y="289.3" font-size="14" text-anchor="end" fill="#1a1a1a" >0.1</text>
<text x="52.2" y="252.4" font-size="14" text-anchor="end" fill="#1a1a1a" >0.2</text>
<text x="52.2" y="215.5" font-size="14" text-anchor="end" fill="#1a1a1a" >0.3</text>
<text x="93.9" y="345.6" font-size="14" text-anchor="middle" fill="#1a1a1a" >8</text>
<text x="165.1" y="345.6" font-size="14" text-anchor="middle" fill="#1a1a1a" >12</text>
<text x="236.2" y="345.6" font-size="14" text-anchor="middle" fill="#1a1a1a" >16</text>
<text x="307.1" y="345.6" font-size="14" text-anchor="middle" fill="#1a1a1a" >20</text>
<text x="121.3" y="368.6" font-size="16" text-anchor="start" fill="#1a1a1a" textLength="120.6" lengthAdjust="spacingAndGlyphs" >Parameter 2<tspan font-style="italic">ℓ</tspan> +1</text>
<line x1="169.6" y1="210.3" x2="184.6" y2="210.3" stroke="#80c89c" stroke-width="1.7" />
<line x1="177.1" y1="203.8" x2="177.1" y2="216.8" stroke="#80c89c" stroke-width="1.7" />
<circle cx="177.1" cy="210.3" r="3.7" fill="#80c89c" stroke="#6bb98a" stroke-width="0.9"/>
<text x="189.2" y="214.8" font-size="14.5" text-anchor="start" fill="#1a1a1a" ><tspan font-style="italic">k</tspan></text>
<path d="M201.1,218.5 L201.1,210.2 M199,212.6 L201.1,210.2 L203.2,212.6" fill="none" stroke="#a3a3a3" stroke-width="1.35"/>
<text x="207.4" y="214.8" font-size="14.5" text-anchor="start" fill="#1a1a1a" >=0</text>
<line x1="169.6" y1="232.5" x2="184.6" y2="232.5" stroke="#55a878" stroke-width="1.7" />
<line x1="177.1" y1="226" x2="177.1" y2="239" stroke="#55a878" stroke-width="1.7" />
<circle cx="177.1" cy="232.5" r="3.7" fill="#55a878" stroke="#3f9566" stroke-width="0.9"/>
<text x="189.2" y="237" font-size="14.5" text-anchor="start" fill="#1a1a1a" ><tspan font-style="italic">k</tspan></text>
<path d="M201.1,240.7 L201.1,232.4 M199,234.8 L201.1,232.4 L203.2,234.8" fill="none" stroke="#a3a3a3" stroke-width="1.35"/>
<text x="207.4" y="237" font-size="14.5" text-anchor="start" fill="#1a1a1a" >=1</text>
<line x1="238.5" y1="210.3" x2="253.5" y2="210.3" stroke="#2e7d52" stroke-width="1.7" />
<line x1="246" y1="203.8" x2="246" y2="216.8" stroke="#2e7d52" stroke-width="1.7" />
<circle cx="246" cy="210.3" r="3.7" fill="#2e7d52" stroke="#216a43" stroke-width="0.9"/>
<text x="257.9" y="214.8" font-size="14.5" text-anchor="start" fill="#1a1a1a" ><tspan font-style="italic">k</tspan></text>
<path d="M269.8,218.5 L269.8,210.2 M267.7,212.6 L269.8,210.2 L271.9,212.6" fill="none" stroke="#a3a3a3" stroke-width="1.35"/>
<text x="276.1" y="214.8" font-size="14.5" text-anchor="start" fill="#1a1a1a" >=2</text>
<line x1="238.5" y1="232.5" x2="253.5" y2="232.5" stroke="#175433" stroke-width="1.7" />
<line x1="246" y1="226" x2="246" y2="239" stroke="#175433" stroke-width="1.7" />
<circle cx="246" cy="232.5" r="3.7" fill="#175433" stroke="#0f4026" stroke-width="0.9"/>
<text x="257.9" y="237" font-size="14.5" text-anchor="start" fill="#1a1a1a" ><tspan font-style="italic">k</tspan></text>
<path d="M269.8,240.7 L269.8,232.4 M267.7,234.8 L269.8,232.4 L271.9,234.8" fill="none" stroke="#a3a3a3" stroke-width="1.35"/>
<text x="276.1" y="237" font-size="14.5" text-anchor="start" fill="#1a1a1a" >=3</text>
<g transform="translate(20.6,314.2) rotate(-90)">
<text x="0" y="0" font-size="16" text-anchor="start" fill="#1a1a1a" textLength="111.8" lengthAdjust="spacingAndGlyphs" >RMS deviation</text>
</g>
<path d="M391.58,287 L404.62,252 L417.66,204.6 L430.7,192 L443.74,204 L456.78,231 L469.82,253 L482.86,272 L495.9,286 L508.94,290 L521.98,288 L535.02,276 L548.06,251 L561.1,221 L574.14,193 L587.18,163 L600.22,128 L613.26,90 L626.3,51.6" fill="none" stroke="#4f9e6e" stroke-width="1.7" stroke-linejoin="round" />
<path d="M391.58,288.5 L404.62,256.83 L417.66,213.66 L430.7,200.85 L443.74,211.59 L456.78,235.83 L469.82,256.3 L482.86,274.24 L495.9,287.1 L508.94,291.23 L521.98,289.82 L535.02,278.5 L548.06,257 L561.1,227.5 L574.14,199.5 L587.18,170.5 L600.22,139 L613.26,105 L626.3,68.8" fill="none" stroke="#3f8f60" stroke-width="2.0" stroke-linejoin="round" stroke-dasharray="0.9 3.6" stroke-linecap="round"/>
<path d="M391.58,289.27 L404.62,259.35 L417.66,218.39 L430.7,205.47 L443.74,215.55 L456.78,238.35 L469.82,256.86 L482.86,274.05 L495.9,286.8 L508.94,290.71 L521.98,288.83 L535.02,276.9 L548.06,253.16 L561.1,223.34 L574.14,195.34 L587.18,165.7 L600.22,131.96 L613.26,95.4 L626.3,57.79" fill="none" stroke="#2f7a50" stroke-width="1.9" stroke-linejoin="round" />
<path d="M391.58,291.03 L404.62,265.02 L417.66,229.03 L430.7,215.87 L443.74,224.46 L456.78,244.02 L469.82,261.06 L482.86,277.06 L495.9,288.32 L508.94,292.48 L521.98,291.51 L535.02,280.65 L548.06,262.16 L561.1,233.09 L574.14,205.09 L587.18,176.95 L600.22,148.46 L613.26,117.9 L626.3,83.59" fill="none" stroke="#1d5e3b" stroke-width="2.0" stroke-linejoin="round" />
<path d="M391.58,290.03 L404.62,264.02 L417.66,228.03 L430.7,214.87 L443.74,223.46 L456.78,243.02 L469.82,260.06 L482.86,276.06 L495.9,287.32 L508.94,291.48 L521.98,290.51 L535.02,279.65 L548.06,261.16 L561.1,232.09 L574.14,204.09 L587.18,175.95 L600.22,147.46 L613.26,116.9 L626.3,82.59" fill="none" stroke="#1d5e3b" stroke-width="1.3" stroke-linejoin="round" stroke-dasharray="2.5 2"/>
<path d="M391.58,291.6 L404.62,271.1 L417.66,242.1 L430.7,228.6 L443.74,235.1 L456.78,250.1 L469.82,263.1 L482.86,277.1 L495.9,287.1 L508.94,291.1 L521.98,290.1 L535.02,279.1 L548.06,261.1 L561.1,232.1 L574.14,204.1 L587.18,176.1 L600.22,148.1 L613.26,118.1 L626.3,84.1" fill="none" stroke="#1d5e3b" stroke-width="1.6" stroke-linejoin="round" />
<path d="M391.58,293.5 L404.62,273 L417.66,244 L430.7,230.5 L443.74,237 L456.78,252 L469.82,265 L482.86,279 L495.9,289 L508.94,293 L521.98,292 L535.02,281 L548.06,263 L561.1,234 L574.14,206 L587.18,178 L600.22,150 L613.26,120 L626.3,86" fill="none" stroke="#0c0c0c" stroke-width="1.9" stroke-linejoin="round" />
<line x1="396" y1="288" x2="396" y2="306" stroke="#b3173f" stroke-width="1.7" />
<circle cx="396" cy="297.4" r="3.8" fill="#e6547a" stroke="#b3173f" stroke-width="1.0"/>
<line x1="420.1" y1="253" x2="420.1" y2="274" stroke="#b3173f" stroke-width="1.7" />
<circle cx="420.1" cy="263.6" r="3.8" fill="#e6547a" stroke="#b3173f" stroke-width="1.0"/>
<line x1="444.2" y1="247" x2="444.2" y2="271" stroke="#b3173f" stroke-width="1.7" />
<circle cx="444.2" cy="259.3" r="3.8" fill="#e6547a" stroke="#b3173f" stroke-width="1.0"/>
<line x1="468.3" y1="273.4" x2="468.3" y2="295.3" stroke="#b3173f" stroke-width="1.7" />
<circle cx="468.3" cy="284.2" r="3.8" fill="#e6547a" stroke="#b3173f" stroke-width="1.0"/>
<line x1="492.4" y1="280.8" x2="492.4" y2="301.6" stroke="#b3173f" stroke-width="1.7" />
<circle cx="492.4" cy="291.3" r="3.8" fill="#e6547a" stroke="#b3173f" stroke-width="1.0"/>
<line x1="516.5" y1="287.2" x2="516.5" y2="308" stroke="#b3173f" stroke-width="1.7" />
<circle cx="516.5" cy="297.8" r="3.8" fill="#e6547a" stroke="#b3173f" stroke-width="1.0"/>
<line x1="540.6" y1="257.1" x2="540.6" y2="282.5" stroke="#b3173f" stroke-width="1.7" />
<circle cx="540.6" cy="269.8" r="3.8" fill="#e6547a" stroke="#b3173f" stroke-width="1.0"/>
<line x1="564.7" y1="199.8" x2="564.7" y2="231.6" stroke="#b3173f" stroke-width="1.7" />
<circle cx="564.7" cy="215.7" r="3.8" fill="#e6547a" stroke="#b3173f" stroke-width="1.0"/>
<line x1="588.8" y1="134.8" x2="588.8" y2="174.4" stroke="#b3173f" stroke-width="1.7" />
<circle cx="588.8" cy="154.8" r="3.8" fill="#e6547a" stroke="#b3173f" stroke-width="1.0"/>
<line x1="612.9" y1="101.4" x2="612.9" y2="137.9" stroke="#b3173f" stroke-width="1.7" />
<circle cx="612.9" cy="119.4" r="3.8" fill="#e6547a" stroke="#b3173f" stroke-width="1.0"/>
<rect x="378.6" y="7.6" width="247.8" height="320.7" fill="none" stroke="#262626" stroke-width="1.3"/>
<line x1="430.7" y1="328.3" x2="430.7" y2="323.3" stroke="#262626" stroke-width="1.3" />
<line x1="430.7" y1="7.6" x2="430.7" y2="12.6" stroke="#262626" stroke-width="1.3" />
<line x1="495.8" y1="328.3" x2="495.8" y2="323.3" stroke="#262626" stroke-width="1.3" />
<line x1="495.8" y1="7.6" x2="495.8" y2="12.6" stroke="#262626" stroke-width="1.3" />
<line x1="561.2" y1="328.3" x2="561.2" y2="323.3" stroke="#262626" stroke-width="1.3" />
<line x1="561.2" y1="7.6" x2="561.2" y2="12.6" stroke="#262626" stroke-width="1.3" />
<line x1="378.6" y1="289.7" x2="383.6" y2="289.7" stroke="#262626" stroke-width="1.3" />
<line x1="626.4" y1="289.7" x2="621.4" y2="289.7" stroke="#262626" stroke-width="1.3" />
<line x1="378.6" y1="240.8" x2="383.6" y2="240.8" stroke="#262626" stroke-width="1.3" />
<line x1="626.4" y1="240.8" x2="621.4" y2="240.8" stroke="#262626" stroke-width="1.3" />
<line x1="378.6" y1="191.9" x2="383.6" y2="191.9" stroke="#262626" stroke-width="1.3" />
<line x1="626.4" y1="191.9" x2="621.4" y2="191.9" stroke="#262626" stroke-width="1.3" />
<line x1="378.6" y1="143" x2="383.6" y2="143" stroke="#262626" stroke-width="1.3" />
<line x1="626.4" y1="143" x2="621.4" y2="143" stroke="#262626" stroke-width="1.3" />
<line x1="378.6" y1="94.1" x2="383.6" y2="94.1" stroke="#262626" stroke-width="1.3" />
<line x1="626.4" y1="94.1" x2="621.4" y2="94.1" stroke="#262626" stroke-width="1.3" />
<line x1="378.6" y1="45.2" x2="383.6" y2="45.2" stroke="#262626" stroke-width="1.3" />
<line x1="626.4" y1="45.2" x2="621.4" y2="45.2" stroke="#262626" stroke-width="1.3" />
<text x="373.3" y="294.7" font-size="14" text-anchor="end" fill="#1a1a1a" >0.00</text>
<text x="373.3" y="245.8" font-size="14" text-anchor="end" fill="#1a1a1a" >0.05</text>
<text x="373.3" y="196.9" font-size="14" text-anchor="end" fill="#1a1a1a" >0.10</text>
<text x="373.3" y="148" font-size="14" text-anchor="end" fill="#1a1a1a" >0.15</text>
<text x="373.3" y="99.1" font-size="14" text-anchor="end" fill="#1a1a1a" >0.20</text>
<text x="373.3" y="50.2" font-size="14" text-anchor="end" fill="#1a1a1a" >0.25</text>
<text x="431.3" y="345.6" font-size="14" text-anchor="middle" fill="#1a1a1a" >1.0</text>
<text x="496.4" y="345.6" font-size="14" text-anchor="middle" fill="#1a1a1a" >1.5</text>
<text x="561.8" y="345.6" font-size="14" text-anchor="middle" fill="#1a1a1a" >2.0</text>
<text x="627" y="345.6" font-size="14" text-anchor="middle" fill="#1a1a1a" >2.5</text>
<text x="466.6" y="368.8" font-size="16" text-anchor="start" fill="#1a1a1a" >Tilt</text>
<text x="492.8" y="368.8" font-size="16" text-anchor="start" fill="#1a1a1a" textLength="13.4" lengthAdjust="spacingAndGlyphs" >Δ</text>
<path d="M511.9,364.2 L511.9,374.2 M509.3,371.6 L511.9,374.2 L514.5,371.6" fill="none" stroke="#a8a8a8" stroke-width="1.3"/>
<text x="520.5" y="368.8" font-size="16" text-anchor="start" fill="#1a1a1a" >(<tspan font-style="italic">J</tspan>)</text>
<line x1="418.3" y1="25.6" x2="433.5" y2="25.6" stroke="#5aaa78" stroke-width="1.9" />
<text x="437.3" y="30.1" font-size="14.5" text-anchor="start" fill="#1a1a1a" ><tspan font-style="italic">k</tspan></text>
<path d="M449.2,33.8 L449.2,25.5 M447.1,27.9 L449.2,25.5 L451.3,27.9" fill="none" stroke="#a3a3a3" stroke-width="1.35"/>
<text x="455.5" y="30.1" font-size="14.5" text-anchor="start" fill="#1a1a1a" >=1</text>
<line x1="418.3" y1="48.2" x2="433.5" y2="48.2" stroke="#3c8c5e" stroke-width="1.9" />
<text x="437.3" y="52.7" font-size="14.5" text-anchor="start" fill="#1a1a1a" ><tspan font-style="italic">k</tspan></text>
<path d="M449.2,56.4 L449.2,48.1 M447.1,50.5 L449.2,48.1 L451.3,50.5" fill="none" stroke="#a3a3a3" stroke-width="1.35"/>
<text x="455.5" y="52.7" font-size="14.5" text-anchor="start" fill="#1a1a1a" >=2</text>
<line x1="486.6" y1="25.6" x2="501.8" y2="25.6" stroke="#235f3e" stroke-width="1.9" />
<text x="506" y="30.1" font-size="14.5" text-anchor="start" fill="#1a1a1a" ><tspan font-style="italic">k</tspan></text>
<path d="M517.9,33.8 L517.9,25.5 M515.8,27.9 L517.9,25.5 L520,27.9" fill="none" stroke="#a3a3a3" stroke-width="1.35"/>
<text x="524.2" y="30.1" font-size="14.5" text-anchor="start" fill="#1a1a1a" >=3</text>
<line x1="486.6" y1="48.2" x2="501.8" y2="48.2" stroke="#1a4a30" stroke-width="1.9" />
<text x="506" y="52.7" font-size="14.5" text-anchor="start" fill="#1a1a1a" ><tspan font-style="italic">k</tspan></text>
<path d="M517.9,56.4 L517.9,48.1 M515.8,50.5 L517.9,48.1 L520,50.5" fill="none" stroke="#a3a3a3" stroke-width="1.35"/>
<text x="524.2" y="52.7" font-size="14.5" text-anchor="start" fill="#1a1a1a" >=4</text>
<line x1="555" y1="25.6" x2="570.2" y2="25.6" stroke="#0c0c0c" stroke-width="1.9" />
<text x="574.4" y="30.1" font-size="14.5" text-anchor="start" fill="#1a1a1a" ><tspan font-style="italic">k</tspan></text>
<path d="M586.3,33.8 L586.3,25.5 M584.2,27.9 L586.3,25.5 L588.4,27.9" fill="none" stroke="#a3a3a3" stroke-width="1.35"/>
<text x="592.6" y="30.1" font-size="14.5" text-anchor="start" fill="#1a1a1a" >=5</text>
<line x1="562.9" y1="41" x2="562.9" y2="54.8" stroke="#b3173f" stroke-width="1.6" />
<circle cx="562.9" cy="47.6" r="3.8" fill="#e6547a" stroke="#b3173f" stroke-width="1"/>
<text x="575.2" y="52.6" font-size="15" text-anchor="start" fill="#1a1a1a" textLength="37.6" lengthAdjust="spacingAndGlyphs" ><tspan font-style="italic">U</tspan> =5<tspan font-style="italic">J</tspan></text>
<g transform="translate(339,178.6) rotate(-90)">
<path d="M1,-9.3 C1.2,-10.6 2.5,-11 4,-11.1 L10.8,-11.6 M7.4,-11.3 L3.6,-0.6 M0,-0.2 L7.6,-0.9 C8.3,-1 8.6,-1.5 8.5,-2" transform="translate(0,0) scale(1.0)" fill="none" stroke="#1a1a1a" stroke-width="1.1" stroke-linecap="round"/>
<path d="M1.8,-13.8 L8,-13.8" stroke="#1a1a1a" stroke-width="1.15"/>
<path d="M14.2,-19.4 L14.2,-9.3 M11.7,-12.3 L14.2,-9.3 L16.7,-12.3" fill="none" stroke="#9a9a9a" stroke-width="1.2"/>
</g>
<rect x="440.8" y="76" width="99.6" height="75" fill="#fff"/>
<rect x="440.8" y="80.8" width="99.6" height="12" fill="#c3dff0"/>
<rect x="440.8" y="132.5" width="99.6" height="11.6" fill="#dbaab6"/>
<line x1="440.8" y1="127.9" x2="540.4" y2="127.9" stroke="#111" stroke-width="2.1" stroke-dasharray="11.2 9.65"/>
<path d="M441,75.6 L458.8,105.7" fill="none" stroke="#7cc197" stroke-width="2" stroke-linecap="round"/>
<path d="M458.8,105.7 L476.6,113.1" fill="none" stroke="#5aa878" stroke-width="2" stroke-linecap="round"/>
<path d="M476.6,113.1 L494.5,116.9" fill="none" stroke="#3d8c5d" stroke-width="2" stroke-linecap="round"/>
<path d="M494.5,116.9 L512.6,124.8" fill="none" stroke="#1f6a40" stroke-width="2" stroke-linecap="round"/>
<path d="M512.6,124.8 L531.5,125.4" fill="none" stroke="#12502e" stroke-width="2" stroke-linecap="round"/>
<rect x="440.8" y="76" width="99.6" height="75" fill="none" stroke="#262626" stroke-width="1.3"/>
<line x1="458.94" y1="151" x2="458.94" y2="147" stroke="#262626" stroke-width="1.3" />
<line x1="458.94" y1="76" x2="458.94" y2="80" stroke="#262626" stroke-width="1.3" />
<line x1="477.08" y1="151" x2="477.08" y2="147" stroke="#262626" stroke-width="1.3" />
<line x1="477.08" y1="76" x2="477.08" y2="80" stroke="#262626" stroke-width="1.3" />
<line x1="495.22" y1="151" x2="495.22" y2="147" stroke="#262626" stroke-width="1.3" />
<line x1="495.22" y1="76" x2="495.22" y2="80" stroke="#262626" stroke-width="1.3" />
<line x1="513.36" y1="151" x2="513.36" y2="147" stroke="#262626" stroke-width="1.3" />
<line x1="513.36" y1="76" x2="513.36" y2="80" stroke="#262626" stroke-width="1.3" />
<line x1="531.5" y1="151" x2="531.5" y2="147" stroke="#262626" stroke-width="1.3" />
<line x1="531.5" y1="76" x2="531.5" y2="80" stroke="#262626" stroke-width="1.3" />
<line x1="440.8" y1="81.1" x2="444.8" y2="81.1" stroke="#262626" stroke-width="1.3" />
<line x1="540.4" y1="81.1" x2="536.4" y2="81.1" stroke="#262626" stroke-width="1.3" />
<line x1="440.8" y1="98.5" x2="444.8" y2="98.5" stroke="#262626" stroke-width="1.3" />
<line x1="540.4" y1="98.5" x2="536.4" y2="98.5" stroke="#262626" stroke-width="1.3" />
<line x1="440.8" y1="116.2" x2="444.8" y2="116.2" stroke="#262626" stroke-width="1.3" />
<line x1="540.4" y1="116.2" x2="536.4" y2="116.2" stroke="#262626" stroke-width="1.3" />
<line x1="440.8" y1="133.1" x2="444.8" y2="133.1" stroke="#262626" stroke-width="1.3" />
<line x1="540.4" y1="133.1" x2="536.4" y2="133.1" stroke="#262626" stroke-width="1.3" />
<text x="434.6" y="84.7" font-size="10.5" text-anchor="end" fill="#1a1a1a" >0.13</text>
<text x="434.6" y="102.1" font-size="10.5" text-anchor="end" fill="#1a1a1a" >0.10</text>
<text x="434.6" y="119.8" font-size="10.5" text-anchor="end" fill="#1a1a1a" >0.07</text>
<text x="434.6" y="136.7" font-size="10.5" text-anchor="end" fill="#1a1a1a" >0.04</text>
<text x="441.2" y="165.8" font-size="10.5" text-anchor="middle" fill="#1a1a1a" >0</text>
<text x="459.34" y="165.8" font-size="10.5" text-anchor="middle" fill="#1a1a1a" >1</text>
<text x="477.48" y="165.8" font-size="10.5" text-anchor="middle" fill="#1a1a1a" >2</text>
<text x="495.62" y="165.8" font-size="10.5" text-anchor="middle" fill="#1a1a1a" >3</text>
<text x="513.76" y="165.8" font-size="10.5" text-anchor="middle" fill="#1a1a1a" >4</text>
<text x="531.9" y="165.8" font-size="10.5" text-anchor="middle" fill="#1a1a1a" >5</text>
<text x="481" y="180.8" font-size="15" text-anchor="start" fill="#1a1a1a" ><tspan font-style="italic">k</tspan></text>
<path d="M493,184.6 L493,175.6 M490.9,178 L493,175.6 L495.1,178" fill="none" stroke="#a3a3a3" stroke-width="1.35"/>
<g transform="translate(407.5,123.8) rotate(-90)">
<path d="M1,-9.3 C1.2,-10.6 2.5,-11 4,-11.1 L10.8,-11.6 M7.4,-11.3 L3.6,-0.6 M0,-0.2 L7.6,-0.9 C8.3,-1 8.6,-1.5 8.5,-2" transform="translate(0,0) scale(1.0)" fill="none" stroke="#1a1a1a" stroke-width="1.1" stroke-linecap="round"/>
<path d="M1.8,-13.8 L8,-13.8" stroke="#1a1a1a" stroke-width="1.15"/>
<path d="M14.2,-19.4 L14.2,-9.3 M11.7,-12.3 L14.2,-9.3 L16.7,-12.3" fill="none" stroke="#9a9a9a" stroke-width="1.2"/>
</g>
<clipPath id="cd"><rect x="698.8" y="7.6" width="123.5" height="136.7"/></clipPath><g clip-path="url(#cd)">
<path d="M705,56.9 L705.5,58.44 L706,52.85 L706.5,52.28 L707,53.83 L707.5,51.29 L708,46.52 L708.5,48.9 L709,54.09 L709.5,49.9 L710,58.09 L710.5,51.1 L711,49.88 L711.5,47.74 L712,47.49 L712.5,44.65 L713,47.83 L713.5,50.73 L714,53.74 L714.5,54.87 L715,50.96 L715.5,53.86 L716,52.33 L716.5,48.32 L717,48.22 L717.5,47.27 L718,42.13 L718.5,38.92 L719,37.24 L719.5,43.71 L720,46.53 L720.5,47.48 L721,44.4 L721.5,43.22 L722,48.6 L722.5,50.63 L723,53.84 L723.5,53.52 L724,54.26 L724.5,51.8 L725,47.32 L725.5,46.9 L726,53.42 L726.5,53.89 L727,53.23 L727.5,51.45 L728,49.11 L728.5,44.06 L729,48.22 L729.5,50.45 L730,53.01 L730.5,54.02 L731,52.92 L731.5,52.16 L732,52.8 L732.5,50.8 L733,49.14 L733.5,49.7 L734,53.33 L734.5,52.64 L735,51.95 L735.5,50.87 L736,48.4 L736.5,42.8 L737,41.24 L737.5,43.76 L738,49.37 L738.5,55.79 L739,52.96 L739.5,49.47 L740,48.25 L740.5,50.83 L741,53.09 L741.5,55.87 L742,56.63 L742.5,53.45 L743,52.85 L743.5,52.51 L744,54.97 L744.5,53.45 L745,54.94 L745.5,58.89 L746,56.06 L746.5,55.05 L747,56.01 L747.5,58.09 L748,57.93 L748.5,60.74 L749,58.16 L749.5,60.89 L750,59.56 L750.5,57.45 L751,57.24 L751.5,59.05 L752,60.18 L752.5,60.74 L753,61.58 L753.5,61.89 L754,61.11 L754.5,61.52 L755,61.83 L755.5,61.26 L756,62.28 L756.5,62.24 L757,60.85 L757.5,60.46 L758,62.21 L758.5,61.91 L759,61.99 L759.5,63.41 L760,63.07 L760.5,63.3 L761,64.13 L761.5,63.14 L762,63.29 L762.5,63.99 L763,62.63 L763.5,63.52 L764,63.81 L764.5,59.51 L765,61.09 L765.5,63.59 L766,62.9 L766.5,63.57 L767,62.51 L767.5,63.01 L768,62.31 L768.5,62.73 L769,62.08 L769.5,61.61 L770,60.94 L770.5,62.77 L771,61.27 L771.5,61.73 L772,60.23 L772.5,61.51 L773,60.71 L773.5,60.35 L774,60.33 L774.5,60.84 L775,60.74 L775.5,59.82 L776,60.37 L776.5,61.34 L777,61.72 L777.5,60.5 L778,61.12 L778.5,61.2 L779,60.68 L779.5,61.75 L780,61.06 L780.5,59.83 L781,61.71 L781.5,60.11 L782,62.68 L782.5,61.51 L783,62.02 L783.5,62.87 L784,62.01 L784.5,62.8 L785,61.89 L785.5,61.08 L786,61.91 L786.5,62.62 L787,62.94 L787.5,62.43 L788,62.33 L788.5,62.89 L789,62.97 L789.5,61.36 L790,62.93 L790.5,62.61 L791,62.53 L791.5,61.48 L792,60.05 L792.5,62.16 L793,62.65 L793.5,62.17 L794,62.24 L794.5,62.39 L795,62.61 L795.5,62.08 L796,62.6 L796.5,63.13 L797,62.07 L797.5,62.72 L798,63.53 L798.5,62.98 L799,62.46 L799.5,63.75 L800,65.06 L800.5,63.69 L801,64.11 L801.5,65.13 L802,63.31 L802.5,65.14 L803,64.69 L803.5,65.07 L804,65.68 L804.5,65.53 L805,64.07 L805.5,64.62 L806,65.17 L806.5,63.07 L807,64.75 L807.5,64.61 L808,63.61 L808.5,64.06 L809,63.72 L809.5,63.8 L810,63.28 L810.5,63.98 L811,64.22 L811.5,62.56 L812,62.13 L812.5,62.71 L813,63.36 L813.5,62.55 L814,62.98 L814.5,61.97 L815,61.87 L815.5,63.73 L816,62.54 L816.5,63.02 L817,61.87 L817.5,63.64 L818,62.7 L818.5,62.5 L819,63.44 L819.5,61.11 L819.5,70.13 L819,70.08 L818.5,69.71 L818,69.71 L817.5,69.98 L817,69.93 L816.5,70.07 L816,69.69 L815.5,69.5 L815,69.83 L814.5,69.67 L814,69.86 L813.5,70.04 L813,69.81 L812.5,69.9 L812,70.11 L811.5,70.13 L811,70.36 L810.5,70.33 L810,70.75 L809.5,70.72 L809,71.23 L808.5,71.31 L808,71.15 L807.5,71.95 L807,71.78 L806.5,71.87 L806,72.13 L805.5,72.28 L805,72.41 L804.5,72.69 L804,72.84 L803.5,72.67 L803,72.95 L802.5,72.65 L802,72.4 L801.5,72.43 L801,72.22 L800.5,72.39 L800,72.31 L799.5,71.58 L799,71.5 L798.5,71.52 L798,71.5 L797.5,71.22 L797,70.76 L796.5,71.09 L796,71.1 L795.5,70.22 L795,70.55 L794.5,70.29 L794,70.35 L793.5,69.77 L793,70.09 L792.5,70.05 L792,69.65 L791.5,70 L791,69.97 L790.5,69.96 L790,69.97 L789.5,70.12 L789,70.62 L788.5,69.98 L788,70.25 L787.5,70.48 L787,70.56 L786.5,70.36 L786,70.9 L785.5,70.19 L785,70.54 L784.5,70.35 L784,70.36 L783.5,70.11 L783,70.44 L782.5,70.86 L782,70.53 L781.5,69.66 L781,69.4 L780.5,70.08 L780,69.63 L779.5,69.21 L779,69.74 L778.5,69.46 L778,68.71 L777.5,69.22 L777,69.44 L776.5,68.47 L776,68.71 L775.5,69.37 L775,69.39 L774.5,69.16 L774,69.19 L773.5,68.86 L773,69.76 L772.5,69.49 L772,69.54 L771.5,69.9 L771,70.05 L770.5,69.99 L770,70.48 L769.5,70.62 L769,70.48 L768.5,70.97 L768,70.68 L767.5,71.92 L767,70.03 L766.5,72.13 L766,71.26 L765.5,72.06 L765,71.98 L764.5,72.41 L764,72.24 L763.5,72.26 L763,72.81 L762.5,72.29 L762,72.2 L761.5,72.75 L761,72.43 L760.5,72 L760,72.53 L759.5,71.39 L759,71.79 L758.5,71.47 L758,71 L757.5,71.39 L757,70.94 L756.5,71.36 L756,70.62 L755.5,70.08 L755,70.64 L754.5,69.95 L754,71.16 L753.5,70.94 L753,70.6 L752.5,70.11 L752,68.9 L751.5,68.13 L751,66.41 L750.5,65.89 L750,66.31 L749.5,68.79 L749,69.67 L748.5,70.27 L748,69.91 L747.5,68.78 L747,65.78 L746.5,65.25 L746,67.24 L745.5,68.03 L745,69.3 L744.5,68.25 L744,67.84 L743.5,64.12 L743,63.11 L742.5,67.48 L742,69.23 L741.5,67.07 L741,65.33 L740.5,61.91 L740,62.16 L739.5,64.64 L739,66.85 L738.5,66.87 L738,65.12 L737.5,59.63 L737,54.68 L736.5,57.3 L736,63.01 L735.5,64.9 L735,66.01 L734.5,65.89 L734,64.04 L733.5,62.88 L733,62.96 L732.5,64.8 L732,66.78 L731.5,66.21 L731,66.18 L730.5,66.9 L730,67.18 L729.5,65.18 L729,62.56 L728.5,62.03 L728,66.02 L727.5,67.52 L727,66.58 L726.5,67.15 L726,65.58 L725.5,62.82 L725,62.88 L724.5,64.52 L724,66.61 L723.5,67.08 L723,66.16 L722.5,66.85 L722,64.37 L721.5,58.71 L721,57.18 L720.5,60.44 L720,60.83 L719.5,57.53 L719,52.28 L718.5,50.44 L718,54.09 L717.5,59.27 L717,64.65 L716.5,66.12 L716,65.27 L715.5,65.84 L715,66.53 L714.5,64.71 L714,66.23 L713.5,63.45 L713,62.63 L712.5,59.14 L712,58.56 L711.5,64.41 L711,63.82 L710.5,65.21 L710,67.88 L709.5,61.81 L709,65.17 L708.5,63.94 L708,57.23 L707.5,64.81 L707,64.01 L706.5,61.64 L706,63.1 L705.5,67.83 L705,66.12Z" fill="#88c9a1"/>
<path d="M698.9,71.07 L699.4,85.24 L699.9,78.23 L700.4,62.66 L700.9,50.7 L701.4,49.22 L701.9,51.29 L702.4,61.73 L702.9,79.79 L703.4,67.62 L703.9,48.64 L704.4,47.08 L704.9,61.35 L705.4,76.75 L705.9,54.17 L706.4,52.21 L706.9,56.63 L707.4,67.4 L707.9,49.27 L708.4,52.5 L708.9,65.58 L709.4,51.4 L709.9,55.03 L710.4,51.27 L710.9,50.29 L711.4,55.35 L711.9,56.1 L712.4,59.67 L712.9,52.1 L713.4,56.7 L713.9,56.07 L714.4,59.35 L714.9,61.59 L715.4,54.54 L715.9,56.42 L716.4,58.2 L716.9,58.41 L717.4,59.03 L717.9,57.2 L718.4,56.29 L718.9,54.72 L719.4,54.28 L719.9,58.73 L720.4,59.48 L720.9,59.85 L721.4,58.21 L721.9,59.28 L722.4,58.32 L722.9,60.47 L723.4,60.58 L723.9,60.08 L724.4,60.15 L724.9,60.53 L725.4,60.47 L725.9,54.7 L726.4,60.09 L726.9,59.77 L727.4,55.39 L727.9,60.4 L728.4,60.12 L728.9,62.91 L729.4,62.9 L729.9,61.58 L730.4,57.02 L730.9,63.61 L731.4,60.41 L731.9,57.9 L732.4,61.92 L732.9,62.1 L733.4,59.77 L733.9,60.91 L734.4,63.43 L734.9,61.27 L735.4,62.04 L735.9,59.98 L736.4,59.16 L736.9,60.31 L737.4,62.91 L737.9,62.33 L738.4,62.99 L738.9,60.33 L739.4,62.44 L739.9,61.06 L740.4,63.62 L740.9,63.06 L741.4,63.37 L741.9,61.22 L742.4,63.25 L742.9,62.55 L743.4,63.28 L743.9,66.13 L744.4,64.32 L744.9,66.16 L745.4,68.12 L745.9,66.62 L746.4,67.78 L746.9,68.92 L747.4,68.43 L747.9,68.57 L748.4,69.84 L748.9,70.85 L749.4,69.25 L749.9,69.45 L750.4,70.78 L750.9,71.76 L751.4,72.36 L751.9,70.66 L752.4,71.76 L752.9,72.17 L753.4,73.09 L753.9,73.02 L754.4,72.4 L754.9,74.12 L755.4,73.89 L755.9,74.08 L756.4,74.55 L756.9,71.84 L757.4,73.95 L757.9,74.44 L758.4,73.97 L758.9,74.41 L759.4,75.23 L759.9,73.5 L760.4,73.85 L760.9,74.43 L761.4,74.64 L761.9,71.31 L762.4,73.98 L762.9,72.86 L763.4,74.94 L763.9,74.96 L764.4,74.69 L764.9,73.8 L765.4,74.6 L765.9,72.94 L766.4,76.07 L766.9,73.86 L767.4,74.29 L767.9,74.37 L768.4,74.59 L768.9,74.74 L769.4,73.59 L769.9,72.72 L770.4,72.13 L770.9,73.62 L771.4,72.87 L771.9,72.35 L772.4,72.53 L772.9,72.09 L773.4,71.96 L773.9,72.33 L774.4,72.44 L774.9,70.79 L775.4,71.75 L775.9,70.99 L776.4,70.38 L776.9,72.32 L777.4,72.32 L777.9,72.4 L778.4,70.84 L778.9,70.87 L779.4,72.86 L779.9,73.63 L780.4,73.49 L780.9,72.87 L781.4,71.81 L781.9,74.36 L782.4,74.03 L782.9,74.73 L783.4,73.9 L783.9,73.08 L784.4,73.24 L784.9,74.03 L785.4,74.58 L785.9,75.37 L786.4,75.29 L786.9,75.83 L787.4,75.58 L787.9,74.34 L788.4,75.49 L788.9,74.79 L789.4,74.6 L789.9,75.06 L790.4,73.48 L790.9,74.64 L791.4,74.31 L791.9,73.08 L792.4,75.32 L792.9,74.51 L793.4,75.63 L793.9,75.27 L794.4,75.25 L794.9,75.24 L795.4,76.32 L795.9,74.04 L796.4,76.53 L796.9,75.35 L797.4,75.36 L797.9,75.66 L798.4,75.48 L798.9,76.25 L799.4,76.62 L799.9,75.09 L800.4,73.02 L800.9,74.64 L801.4,76.01 L801.9,76.08 L802.4,76.49 L802.9,76.08 L803.4,74.64 L803.9,74.37 L804.4,75.42 L804.9,74.98 L805.4,74.71 L805.9,75.03 L806.4,73.81 L806.9,72.67 L807.4,72.06 L807.9,74.23 L808.4,73.64 L808.9,73.68 L809.4,73.48 L809.9,72.79 L810.4,72.41 L810.9,73.11 L811.4,72.58 L811.9,72.77 L812.4,73.4 L812.9,72.99 L813.4,74.13 L813.9,73.43 L814.4,74.17 L814.9,73.96 L815.4,73.31 L815.9,74.63 L816.4,74.63 L816.9,73.95 L817.4,74.47 L817.9,74.06 L818.4,74.49 L818.9,73.49 L819.4,74.87 L819.9,75.34 L819.9,82.75 L819.4,82.54 L818.9,82.53 L818.4,82.59 L817.9,82.39 L817.4,82.14 L816.9,82.58 L816.4,81.94 L815.9,81.9 L815.4,81.66 L814.9,81.79 L814.4,81.45 L813.9,81.56 L813.4,81.16 L812.9,81.37 L812.4,80.8 L811.9,81.37 L811.4,81.17 L810.9,80.71 L810.4,80.83 L809.9,81.2 L809.4,81.31 L808.9,81.12 L808.4,81.82 L807.9,81.61 L807.4,81.78 L806.9,82.27 L806.4,82.63 L805.9,82.69 L805.4,83.13 L804.9,83.31 L804.4,83.48 L803.9,83.23 L803.4,83.94 L802.9,83.94 L802.4,84.45 L801.9,84.48 L801.4,84.53 L800.9,84.45 L800.4,84.42 L799.9,84.76 L799.4,84.44 L798.9,84.51 L798.4,84.3 L797.9,84.36 L797.4,84.77 L796.9,84.04 L796.4,84.06 L795.9,83.98 L795.4,84.44 L794.9,83.99 L794.4,83.92 L793.9,83.73 L793.4,83.68 L792.9,83.23 L792.4,83.93 L791.9,83.63 L791.4,83.63 L790.9,84.2 L790.4,84.08 L789.9,84.12 L789.4,83.62 L788.9,83.78 L788.4,84.08 L787.9,83.88 L787.4,83.78 L786.9,84.23 L786.4,84.16 L785.9,84.65 L785.4,83.85 L784.9,83.9 L784.4,83.51 L783.9,84.59 L783.4,83.34 L782.9,83.43 L782.4,83.12 L781.9,82.85 L781.4,83.16 L780.9,81.97 L780.4,82.67 L779.9,82.43 L779.4,81.82 L778.9,81.45 L778.4,81.78 L777.9,81.41 L777.4,81.54 L776.9,81.61 L776.4,81.39 L775.9,81.25 L775.4,81.64 L774.9,81.32 L774.4,81.99 L773.9,81.25 L773.4,81.95 L772.9,82.89 L772.4,82.21 L771.9,82.38 L771.4,83.14 L770.9,82.67 L770.4,83.79 L769.9,83.33 L769.4,83.95 L768.9,83.51 L768.4,83.89 L767.9,84.06 L767.4,84.5 L766.9,82.52 L766.4,84.14 L765.9,84.39 L765.4,83.84 L764.9,84.64 L764.4,83.95 L763.9,84.8 L763.4,84.61 L762.9,84.44 L762.4,84.4 L761.9,84.21 L761.4,84.2 L760.9,84.09 L760.4,83.94 L759.9,84.24 L759.4,84.28 L758.9,84.46 L758.4,84.68 L757.9,84.17 L757.4,83.99 L756.9,85.09 L756.4,85.21 L755.9,85.52 L755.4,85.4 L754.9,84.43 L754.4,85.58 L753.9,86.42 L753.4,85.26 L752.9,84.88 L752.4,85.17 L751.9,86.25 L751.4,85.43 L750.9,85.93 L750.4,85.94 L749.9,85.42 L749.4,85.43 L748.9,84.65 L748.4,85.19 L747.9,84.42 L747.4,85.13 L746.9,84.22 L746.4,84.86 L745.9,83.37 L745.4,83.85 L744.9,83.28 L744.4,82.38 L743.9,83.28 L743.4,83.09 L742.9,84.56 L742.4,82.82 L741.9,83.24 L741.4,83.31 L740.9,82.99 L740.4,84.02 L739.9,83.9 L739.4,83.08 L738.9,85.45 L738.4,84.2 L737.9,85.2 L737.4,84.38 L736.9,84.37 L736.4,85.54 L735.9,85.07 L735.4,84.2 L734.9,85.12 L734.4,87.21 L733.9,85.44 L733.4,86.5 L732.9,86.09 L732.4,86.33 L731.9,84.78 L731.4,86.88 L730.9,86.93 L730.4,85.99 L729.9,84.92 L729.4,87.58 L728.9,84.82 L728.4,86.62 L727.9,85.28 L727.4,85.2 L726.9,86.25 L726.4,85.59 L725.9,86.42 L725.4,86.61 L724.9,85.3 L724.4,85.91 L723.9,87.83 L723.4,86.38 L722.9,87.17 L722.4,89.53 L721.9,87.41 L721.4,85.45 L720.9,89.72 L720.4,87.27 L719.9,89.46 L719.4,89.43 L718.9,88.9 L718.4,88.31 L717.9,89.24 L717.4,89.87 L716.9,88.82 L716.4,87.41 L715.9,88.29 L715.4,89.54 L714.9,88.99 L714.4,87.09 L713.9,89.75 L713.4,89.38 L712.9,84.82 L712.4,90.53 L711.9,80.84 L711.4,89.09 L710.9,85.35 L710.4,87.08 L709.9,89.72 L709.4,70.36 L708.9,88.05 L708.4,85.7 L707.9,73.34 L707.4,89.72 L706.9,85.64 L706.4,61.21 L705.9,83.73 L705.4,89.23 L704.9,83.71 L704.4,65.13 L703.9,71.79 L703.4,87.69 L702.9,90.06 L702.4,85.72 L701.9,70.41 L701.4,57.76 L700.9,67.96 L700.4,81.95 L699.9,90.06 L699.4,91.64 L698.9,89.64Z" fill="#1b6540"/>
</g>
<line x1="701.7" y1="35.8" x2="701.7" y2="44.8" stroke="#b3173f" stroke-width="1.5" />
<circle cx="701.7" cy="40.3" r="3.6" fill="#e6547a" stroke="#b3173f" stroke-width="1.0"/>
<line x1="706.2" y1="28.6" x2="706.2" y2="41.6" stroke="#b3173f" stroke-width="1.5" />
<circle cx="706.2" cy="35.1" r="3.6" fill="#e6547a" stroke="#b3173f" stroke-width="1.0"/>
<line x1="717.9" y1="47.1" x2="717.9" y2="59.1" stroke="#b3173f" stroke-width="1.5" />
<circle cx="717.9" cy="53.1" r="3.6" fill="#e6547a" stroke="#b3173f" stroke-width="1.0"/>
<line x1="714.8" y1="57.3" x2="714.8" y2="68.3" stroke="#b3173f" stroke-width="1.5" />
<circle cx="714.8" cy="62.8" r="3.6" fill="#e6547a" stroke="#b3173f" stroke-width="1.0"/>
<line x1="710.3" y1="60.9" x2="710.3" y2="70.9" stroke="#b3173f" stroke-width="1.5" />
<circle cx="710.3" cy="65.9" r="3.6" fill="#e6547a" stroke="#b3173f" stroke-width="1.0"/>
<line x1="708.9" y1="66.6" x2="708.9" y2="75.6" stroke="#b3173f" stroke-width="1.5" />
<circle cx="708.9" cy="71.1" r="3.6" fill="#e6547a" stroke="#b3173f" stroke-width="1.0"/>
<line x1="702.9" y1="69.8" x2="702.9" y2="82.8" stroke="#b3173f" stroke-width="1.5" />
<circle cx="702.9" cy="76.3" r="3.6" fill="#e6547a" stroke="#b3173f" stroke-width="1.0"/>
<line x1="713.4" y1="77.9" x2="713.4" y2="89.9" stroke="#b3173f" stroke-width="1.5" />
<circle cx="713.4" cy="83.9" r="3.6" fill="#e6547a" stroke="#b3173f" stroke-width="1.0"/>
<line x1="711.9" y1="82" x2="711.9" y2="93" stroke="#b3173f" stroke-width="1.5" />
<circle cx="711.9" cy="87.5" r="3.6" fill="#e6547a" stroke="#b3173f" stroke-width="1.0"/>
<line x1="719.7" y1="75.1" x2="719.7" y2="85.1" stroke="#b3173f" stroke-width="1.5" />
<circle cx="719.7" cy="80.1" r="3.6" fill="#e6547a" stroke="#b3173f" stroke-width="1.0"/>
<line x1="723.1" y1="68.9" x2="723.1" y2="77.9" stroke="#b3173f" stroke-width="1.5" />
<circle cx="723.1" cy="73.4" r="3.6" fill="#e6547a" stroke="#b3173f" stroke-width="1.0"/>
<line x1="726.5" y1="69.8" x2="726.5" y2="82.8" stroke="#b3173f" stroke-width="1.5" />
<circle cx="726.5" cy="76.3" r="3.6" fill="#e6547a" stroke="#b3173f" stroke-width="1.0"/>
<line x1="729.9" y1="62.9" x2="729.9" y2="74.9" stroke="#b3173f" stroke-width="1.5" />
<circle cx="729.9" cy="68.9" r="3.6" fill="#e6547a" stroke="#b3173f" stroke-width="1.0"/>
<line x1="726.5" y1="62.2" x2="726.5" y2="73.2" stroke="#b3173f" stroke-width="1.5" />
<circle cx="726.5" cy="67.7" r="3.6" fill="#e6547a" stroke="#b3173f" stroke-width="1.0"/>
<line x1="733.2" y1="85.2" x2="733.2" y2="95.2" stroke="#b3173f" stroke-width="1.5" />
<circle cx="733.2" cy="90.2" r="3.6" fill="#e6547a" stroke="#b3173f" stroke-width="1.0"/>
<line x1="735.5" y1="73.4" x2="735.5" y2="82.4" stroke="#b3173f" stroke-width="1.5" />
<circle cx="735.5" cy="77.9" r="3.6" fill="#e6547a" stroke="#b3173f" stroke-width="1.0"/>
<line x1="737.7" y1="72.9" x2="737.7" y2="85.9" stroke="#b3173f" stroke-width="1.5" />
<circle cx="737.7" cy="79.4" r="3.6" fill="#e6547a" stroke="#b3173f" stroke-width="1.0"/>
<line x1="740" y1="62.9" x2="740" y2="74.9" stroke="#b3173f" stroke-width="1.5" />
<circle cx="740" cy="68.9" r="3.6" fill="#e6547a" stroke="#b3173f" stroke-width="1.0"/>
<line x1="742.7" y1="74.6" x2="742.7" y2="85.6" stroke="#b3173f" stroke-width="1.5" />
<circle cx="742.7" cy="80.1" r="3.6" fill="#e6547a" stroke="#b3173f" stroke-width="1.0"/>
<line x1="745.6" y1="66.1" x2="745.6" y2="76.1" stroke="#b3173f" stroke-width="1.5" />
<circle cx="745.6" cy="71.1" r="3.6" fill="#e6547a" stroke="#b3173f" stroke-width="1.0"/>
<line x1="749.4" y1="80.1" x2="749.4" y2="89.1" stroke="#b3173f" stroke-width="1.5" />
<circle cx="749.4" cy="84.6" r="3.6" fill="#e6547a" stroke="#b3173f" stroke-width="1.0"/>
<line x1="753" y1="63.5" x2="753" y2="76.5" stroke="#b3173f" stroke-width="1.5" />
<circle cx="753" cy="70" r="3.6" fill="#e6547a" stroke="#b3173f" stroke-width="1.0"/>
<line x1="755.7" y1="79.7" x2="755.7" y2="91.7" stroke="#b3173f" stroke-width="1.5" />
<circle cx="755.7" cy="85.7" r="3.6" fill="#e6547a" stroke="#b3173f" stroke-width="1.0"/>
<line x1="757.5" y1="69" x2="757.5" y2="80" stroke="#b3173f" stroke-width="1.5" />
<circle cx="757.5" cy="74.5" r="3.6" fill="#e6547a" stroke="#b3173f" stroke-width="1.0"/>
<line x1="704" y1="94.7" x2="704" y2="104.7" stroke="#b3173f" stroke-width="1.5" />
<circle cx="704" cy="99.7" r="3.6" fill="#e6547a" stroke="#b3173f" stroke-width="1.0"/>
<line x1="707.4" y1="98.8" x2="707.4" y2="107.8" stroke="#b3173f" stroke-width="1.5" />
<circle cx="707.4" cy="103.3" r="3.6" fill="#e6547a" stroke="#b3173f" stroke-width="1.0"/>
<line x1="716.8" y1="91.6" x2="716.8" y2="104.6" stroke="#b3173f" stroke-width="1.5" />
<circle cx="716.8" cy="98.1" r="3.6" fill="#e6547a" stroke="#b3173f" stroke-width="1.0"/>
<line x1="758.1" y1="68.6" x2="758.1" y2="80.6" stroke="#b3173f" stroke-width="1.5" />
<circle cx="758.1" cy="74.6" r="3.6" fill="#e6547a" stroke="#b3173f" stroke-width="1.0"/>
<line x1="775.3" y1="74.8" x2="775.3" y2="85.8" stroke="#b3173f" stroke-width="1.5" />
<circle cx="775.3" cy="80.3" r="3.6" fill="#e6547a" stroke="#b3173f" stroke-width="1.0"/>
<line x1="785.1" y1="76.6" x2="785.1" y2="86.6" stroke="#b3173f" stroke-width="1.5" />
<circle cx="785.1" cy="81.6" r="3.6" fill="#e6547a" stroke="#b3173f" stroke-width="1.0"/>
<line x1="793.7" y1="75.4" x2="793.7" y2="84.4" stroke="#b3173f" stroke-width="1.5" />
<circle cx="793.7" cy="79.9" r="3.6" fill="#e6547a" stroke="#b3173f" stroke-width="1.0"/>
<line x1="797.1" y1="78.1" x2="797.1" y2="91.1" stroke="#b3173f" stroke-width="1.5" />
<circle cx="797.1" cy="84.6" r="3.6" fill="#e6547a" stroke="#b3173f" stroke-width="1.0"/>
<line x1="808" y1="79.1" x2="808" y2="91.1" stroke="#b3173f" stroke-width="1.5" />
<circle cx="808" cy="85.1" r="3.6" fill="#e6547a" stroke="#b3173f" stroke-width="1.0"/>
<line x1="804.5" y1="85.1" x2="804.5" y2="96.1" stroke="#b3173f" stroke-width="1.5" />
<circle cx="804.5" cy="90.6" r="3.6" fill="#e6547a" stroke="#b3173f" stroke-width="1.0"/>
<line x1="790.3" y1="85.1" x2="790.3" y2="95.1" stroke="#b3173f" stroke-width="1.5" />
<circle cx="790.3" cy="90.1" r="3.6" fill="#e6547a" stroke="#b3173f" stroke-width="1.0"/>
<line x1="782.5" y1="82.1" x2="782.5" y2="91.1" stroke="#b3173f" stroke-width="1.5" />
<circle cx="782.5" cy="86.6" r="3.6" fill="#e6547a" stroke="#b3173f" stroke-width="1.0"/>
<line x1="777.4" y1="83.6" x2="777.4" y2="96.6" stroke="#b3173f" stroke-width="1.5" />
<circle cx="777.4" cy="90.1" r="3.6" fill="#e6547a" stroke="#b3173f" stroke-width="1.0"/>
<line x1="772.2" y1="80.6" x2="772.2" y2="92.6" stroke="#b3173f" stroke-width="1.5" />
<circle cx="772.2" cy="86.6" r="3.6" fill="#e6547a" stroke="#b3173f" stroke-width="1.0"/>
<line x1="769.6" y1="79.1" x2="769.6" y2="90.1" stroke="#b3173f" stroke-width="1.5" />
<circle cx="769.6" cy="84.6" r="3.6" fill="#e6547a" stroke="#b3173f" stroke-width="1.0"/>
<line x1="765.3" y1="87.3" x2="765.3" y2="97.3" stroke="#b3173f" stroke-width="1.5" />
<circle cx="765.3" cy="92.3" r="3.6" fill="#e6547a" stroke="#b3173f" stroke-width="1.0"/>
<line x1="762.7" y1="83.5" x2="762.7" y2="92.5" stroke="#b3173f" stroke-width="1.5" />
<circle cx="762.7" cy="88" r="3.6" fill="#e6547a" stroke="#b3173f" stroke-width="1.0"/>
<line x1="758.4" y1="80.1" x2="758.4" y2="93.1" stroke="#b3173f" stroke-width="1.5" />
<circle cx="758.4" cy="86.6" r="3.6" fill="#e6547a" stroke="#b3173f" stroke-width="1.0"/>
<line x1="780" y1="95.8" x2="780" y2="107.8" stroke="#b3173f" stroke-width="1.5" />
<circle cx="780" cy="101.8" r="3.6" fill="#e6547a" stroke="#b3173f" stroke-width="1.0"/>
<line x1="787.7" y1="96.3" x2="787.7" y2="107.3" stroke="#b3173f" stroke-width="1.5" />
<circle cx="787.7" cy="101.8" r="3.6" fill="#e6547a" stroke="#b3173f" stroke-width="1.0"/>
<line x1="800.6" y1="99.9" x2="800.6" y2="109.9" stroke="#b3173f" stroke-width="1.5" />
<circle cx="800.6" cy="104.9" r="3.6" fill="#e6547a" stroke="#b3173f" stroke-width="1.0"/>
<rect x="698.8" y="7.6" width="123.5" height="136.7" fill="none" stroke="#262626" stroke-width="1.3"/>
<line x1="698.8" y1="21" x2="703.8" y2="21" stroke="#262626" stroke-width="1.3" />
<line x1="822.3" y1="21" x2="817.3" y2="21" stroke="#262626" stroke-width="1.3" />
<line x1="698.8" y1="75.7" x2="703.8" y2="75.7" stroke="#262626" stroke-width="1.3" />
<line x1="822.3" y1="75.7" x2="817.3" y2="75.7" stroke="#262626" stroke-width="1.3" />
<line x1="698.8" y1="130.5" x2="703.8" y2="130.5" stroke="#262626" stroke-width="1.3" />
<line x1="822.3" y1="130.5" x2="817.3" y2="130.5" stroke="#262626" stroke-width="1.3" />
<line x1="698.8" y1="144.3" x2="698.8" y2="139.3" stroke="#262626" stroke-width="1.3" />
<line x1="698.8" y1="7.6" x2="698.8" y2="12.6" stroke="#262626" stroke-width="1.3" />
<line x1="716.76" y1="144.3" x2="716.76" y2="141.5" stroke="#262626" stroke-width="1.3" />
<line x1="716.76" y1="7.6" x2="716.76" y2="10.4" stroke="#262626" stroke-width="1.3" />
<line x1="727.26" y1="144.3" x2="727.26" y2="141.5" stroke="#262626" stroke-width="1.3" />
<line x1="727.26" y1="7.6" x2="727.26" y2="10.4" stroke="#262626" stroke-width="1.3" />
<line x1="734.71" y1="144.3" x2="734.71" y2="141.5" stroke="#262626" stroke-width="1.3" />
<line x1="734.71" y1="7.6" x2="734.71" y2="10.4" stroke="#262626" stroke-width="1.3" />
<line x1="740.49" y1="144.3" x2="740.49" y2="141.5" stroke="#262626" stroke-width="1.3" />
<line x1="740.49" y1="7.6" x2="740.49" y2="10.4" stroke="#262626" stroke-width="1.3" />
<line x1="745.22" y1="144.3" x2="745.22" y2="141.5" stroke="#262626" stroke-width="1.3" />
<line x1="745.22" y1="7.6" x2="745.22" y2="10.4" stroke="#262626" stroke-width="1.3" />
<line x1="749.21" y1="144.3" x2="749.21" y2="141.5" stroke="#262626" stroke-width="1.3" />
<line x1="749.21" y1="7.6" x2="749.21" y2="10.4" stroke="#262626" stroke-width="1.3" />
<line x1="752.67" y1="144.3" x2="752.67" y2="141.5" stroke="#262626" stroke-width="1.3" />
<line x1="752.67" y1="7.6" x2="752.67" y2="10.4" stroke="#262626" stroke-width="1.3" />
<line x1="755.72" y1="144.3" x2="755.72" y2="141.5" stroke="#262626" stroke-width="1.3" />
<line x1="755.72" y1="7.6" x2="755.72" y2="10.4" stroke="#262626" stroke-width="1.3" />
<line x1="758.45" y1="144.3" x2="758.45" y2="139.3" stroke="#262626" stroke-width="1.3" />
<line x1="758.45" y1="7.6" x2="758.45" y2="12.6" stroke="#262626" stroke-width="1.3" />
<line x1="776.41" y1="144.3" x2="776.41" y2="141.5" stroke="#262626" stroke-width="1.3" />
<line x1="776.41" y1="7.6" x2="776.41" y2="10.4" stroke="#262626" stroke-width="1.3" />
<line x1="786.91" y1="144.3" x2="786.91" y2="141.5" stroke="#262626" stroke-width="1.3" />
<line x1="786.91" y1="7.6" x2="786.91" y2="10.4" stroke="#262626" stroke-width="1.3" />
<line x1="794.36" y1="144.3" x2="794.36" y2="141.5" stroke="#262626" stroke-width="1.3" />
<line x1="794.36" y1="7.6" x2="794.36" y2="10.4" stroke="#262626" stroke-width="1.3" />
<line x1="800.14" y1="144.3" x2="800.14" y2="141.5" stroke="#262626" stroke-width="1.3" />
<line x1="800.14" y1="7.6" x2="800.14" y2="10.4" stroke="#262626" stroke-width="1.3" />
<line x1="804.87" y1="144.3" x2="804.87" y2="141.5" stroke="#262626" stroke-width="1.3" />
<line x1="804.87" y1="7.6" x2="804.87" y2="10.4" stroke="#262626" stroke-width="1.3" />
<line x1="808.86" y1="144.3" x2="808.86" y2="141.5" stroke="#262626" stroke-width="1.3" />
<line x1="808.86" y1="7.6" x2="808.86" y2="10.4" stroke="#262626" stroke-width="1.3" />
<line x1="812.32" y1="144.3" x2="812.32" y2="141.5" stroke="#262626" stroke-width="1.3" />
<line x1="812.32" y1="7.6" x2="812.32" y2="10.4" stroke="#262626" stroke-width="1.3" />
<line x1="815.37" y1="144.3" x2="815.37" y2="141.5" stroke="#262626" stroke-width="1.3" />
<line x1="815.37" y1="7.6" x2="815.37" y2="10.4" stroke="#262626" stroke-width="1.3" />
<line x1="818.1" y1="144.3" x2="818.1" y2="139.3" stroke="#262626" stroke-width="1.3" />
<line x1="818.1" y1="7.6" x2="818.1" y2="12.6" stroke="#262626" stroke-width="1.3" />
<text x="692.6" y="26" font-size="14" text-anchor="end" fill="#1a1a1a" >0.6</text>
<text x="692.6" y="80.7" font-size="14" text-anchor="end" fill="#1a1a1a" >0.4</text>
<text x="692.6" y="135.5" font-size="14" text-anchor="end" fill="#1a1a1a" >0.2</text>
<text x="695.3" y="164.4" font-size="14" text-anchor="middle" fill="#1a1a1a" >10</text>
<text x="704.3" y="157.8" font-size="10" text-anchor="start" fill="#1a1a1a" >1</text>
<text x="754.95" y="164.4" font-size="14" text-anchor="middle" fill="#1a1a1a" >10</text>
<text x="763.95" y="157.8" font-size="10" text-anchor="start" fill="#1a1a1a" >2</text>
<text x="814.6" y="164.4" font-size="14" text-anchor="middle" fill="#1a1a1a" >10</text>
<text x="823.6" y="157.8" font-size="10" text-anchor="start" fill="#1a1a1a" >3</text>
<text x="727.3" y="181.3" font-size="16" text-anchor="start" fill="#1a1a1a" textLength="66.3" lengthAdjust="spacingAndGlyphs" >Time <tspan font-style="italic">t</tspan> <tspan font-family="Liberation Serif" font-size="17">(<tspan font-style="italic">τ</tspan>)</tspan></text>
<line x1="759" y1="18.6" x2="759" y2="32.4" stroke="#b3173f" stroke-width="1.6" />
<circle cx="759" cy="25.5" r="3.8" fill="#e6547a" stroke="#b3173f" stroke-width="1"/>
<text x="771.2" y="30.2" font-size="15" text-anchor="start" fill="#1a1a1a" textLength="38.6" lengthAdjust="spacingAndGlyphs" ><tspan font-style="italic">U</tspan> =5<tspan font-style="italic">J</tspan></text>
<g transform="translate(669.3,93.7) rotate(-90)">
<path d="M1,-9.3 C1.2,-10.6 2.5,-11 4,-11.1 L10.8,-11.6 M7.4,-11.3 L3.6,-0.6 M0,-0.2 L7.6,-0.9 C8.3,-1 8.6,-1.5 8.5,-2" transform="translate(0,0) scale(1.0)" fill="none" stroke="#1a1a1a" stroke-width="1.1" stroke-linecap="round"/>
<path d="M14.4,-17.2 L14.4,-7.4 M11.9,-10.4 L14.4,-7.4 L16.9,-10.4" fill="none" stroke="#9a9a9a" stroke-width="1.2"/>
<text x="20.4" y="0.6" font-size="17" text-anchor="start" fill="#1a1a1a" stroke="#1a1a1a" stroke-width="0.35">(<tspan font-style="italic">t</tspan>)</text>
</g>
<path d="M698.7,261.4 C700.25,261.33 704.78,260.9 708,261 C711.22,261.1 715,261.53 718,262 C721,262.47 723.88,263.1 726,263.8 C728.12,264.5 729.28,265.17 730.7,266.2 C732.12,267.23 733.3,268.42 734.5,270 C735.7,271.58 736.82,273.53 737.9,275.7 C738.98,277.87 740.07,279.78 741,283 C741.93,286.22 742.63,290.75 743.5,295 C744.37,299.25 745.28,306.5 746.2,308.5 C747.12,310.5 748.02,308.75 749,307 C749.98,305.25 751.1,302.17 752.1,298 C753.1,293.83 754.02,288 755,282 C755.98,276 757.1,266.58 758,262 C758.9,257.42 759.57,254.5 760.4,254.5 C761.23,254.5 761.92,258.08 763,262 C764.08,265.92 765.73,272.83 766.9,278 C768.07,283.17 768.98,288.5 770,293 C771.02,297.5 772.13,302.33 773,305 C773.87,307.67 774.37,309.5 775.2,309 C776.03,308.5 777,305.17 778,302 C779,298.83 780.2,293.67 781.2,290 C782.2,286.33 782.82,283.17 784,280 C785.18,276.83 786.8,273.17 788.3,271 C789.8,268.83 791.4,268.08 793,267 C794.6,265.92 795.9,265.5 797.9,264.5 C799.9,263.5 802.98,261.83 805,261 C807.02,260.17 808.22,259.83 810,259.5 C811.78,259.17 814.75,259.08 815.7,259" fill="none" stroke="#1f6a3e" stroke-width="2.2"/>
<circle cx="702.6" cy="262.6" r="3.6" fill="#d42d55" stroke="#6e0f2a" stroke-width="1.0"/>
<circle cx="708.8" cy="257.9" r="3.6" fill="#d42d55" stroke="#6e0f2a" stroke-width="1.0"/>
<circle cx="714.5" cy="265.5" r="3.6" fill="#d42d55" stroke="#6e0f2a" stroke-width="1.0"/>
<circle cx="720.5" cy="260.7" r="3.6" fill="#d42d55" stroke="#6e0f2a" stroke-width="1.0"/>
<circle cx="726" cy="255.5" r="3.6" fill="#d42d55" stroke="#6e0f2a" stroke-width="1.0"/>
<circle cx="731.9" cy="271.4" r="3.6" fill="#d42d55" stroke="#6e0f2a" stroke-width="1.0"/>
<circle cx="737.4" cy="279.8" r="3.6" fill="#d42d55" stroke="#6e0f2a" stroke-width="1.0"/>
<circle cx="743.3" cy="289.3" r="3.6" fill="#d42d55" stroke="#6e0f2a" stroke-width="1.0"/>
<circle cx="749.3" cy="297.4" r="3.6" fill="#d42d55" stroke="#6e0f2a" stroke-width="1.0"/>
<circle cx="755" cy="278.8" r="3.6" fill="#d42d55" stroke="#6e0f2a" stroke-width="1.0"/>
<circle cx="761.2" cy="249.3" r="3.6" fill="#d42d55" stroke="#6e0f2a" stroke-width="1.0"/>
<circle cx="761.2" cy="260.2" r="3.6" fill="#d42d55" stroke="#6e0f2a" stroke-width="1.0"/>
<circle cx="766.4" cy="261.9" r="3.6" fill="#d42d55" stroke="#6e0f2a" stroke-width="1.0"/>
<circle cx="771.7" cy="285.7" r="3.6" fill="#d42d55" stroke="#6e0f2a" stroke-width="1.0"/>
<circle cx="778.1" cy="296" r="3.6" fill="#d42d55" stroke="#6e0f2a" stroke-width="1.0"/>
<circle cx="783.6" cy="308.6" r="3.6" fill="#d42d55" stroke="#6e0f2a" stroke-width="1.0"/>
<circle cx="789.5" cy="276.9" r="3.6" fill="#d42d55" stroke="#6e0f2a" stroke-width="1.0"/>
<circle cx="795.5" cy="275.2" r="3.6" fill="#d42d55" stroke="#6e0f2a" stroke-width="1.0"/>
<circle cx="801.4" cy="254.3" r="3.6" fill="#d42d55" stroke="#6e0f2a" stroke-width="1.0"/>
<circle cx="806.9" cy="254.3" r="3.6" fill="#d42d55" stroke="#6e0f2a" stroke-width="1.0"/>
<circle cx="812.6" cy="255.5" r="3.6" fill="#d42d55" stroke="#6e0f2a" stroke-width="1.0"/>
<circle cx="818.6" cy="247.9" r="3.6" fill="#d42d55" stroke="#6e0f2a" stroke-width="1.0"/>
<rect x="698.7" y="192.2" width="124.2" height="135.8" fill="none" stroke="#262626" stroke-width="1.3"/>
<line x1="702.9" y1="328" x2="702.9" y2="323" stroke="#262626" stroke-width="1.3" />
<line x1="702.9" y1="192.2" x2="702.9" y2="197.2" stroke="#262626" stroke-width="1.3" />
<line x1="731.9" y1="328" x2="731.9" y2="323" stroke="#262626" stroke-width="1.3" />
<line x1="731.9" y1="192.2" x2="731.9" y2="197.2" stroke="#262626" stroke-width="1.3" />
<line x1="760.8" y1="328" x2="760.8" y2="323" stroke="#262626" stroke-width="1.3" />
<line x1="760.8" y1="192.2" x2="760.8" y2="197.2" stroke="#262626" stroke-width="1.3" />
<line x1="789.7" y1="328" x2="789.7" y2="323" stroke="#262626" stroke-width="1.3" />
<line x1="789.7" y1="192.2" x2="789.7" y2="197.2" stroke="#262626" stroke-width="1.3" />
<line x1="818.7" y1="328" x2="818.7" y2="323" stroke="#262626" stroke-width="1.3" />
<line x1="818.7" y1="192.2" x2="818.7" y2="197.2" stroke="#262626" stroke-width="1.3" />
<line x1="698.7" y1="226" x2="703.7" y2="226" stroke="#262626" stroke-width="1.3" />
<line x1="822.9" y1="226" x2="817.9" y2="226" stroke="#262626" stroke-width="1.3" />
<line x1="698.7" y1="294.5" x2="703.7" y2="294.5" stroke="#262626" stroke-width="1.3" />
<line x1="822.9" y1="294.5" x2="817.9" y2="294.5" stroke="#262626" stroke-width="1.3" />
<text x="692.8" y="231" font-size="14" text-anchor="end" fill="#1a1a1a" >0.35</text>
<text x="692.8" y="299.5" font-size="14" text-anchor="end" fill="#1a1a1a" >0.25</text>
<text x="703.2" y="345.6" font-size="14" text-anchor="middle" fill="#1a1a1a" >-20</text>
<text x="732.2" y="345.6" font-size="14" text-anchor="middle" fill="#1a1a1a" >-10</text>
<text x="761.1" y="345.6" font-size="14" text-anchor="middle" fill="#1a1a1a" >0</text>
<text x="790" y="345.6" font-size="14" text-anchor="middle" fill="#1a1a1a" >10</text>
<text x="819" y="345.6" font-size="14" text-anchor="middle" fill="#1a1a1a" >20</text>
<text x="701.2" y="369.8" font-size="16" text-anchor="start" fill="#1a1a1a" textLength="119" lengthAdjust="spacingAndGlyphs" >Interaction <tspan font-style="italic">U</tspan> (<tspan font-style="italic">J</tspan>)</text>
<line x1="769.1" y1="203" x2="769.1" y2="216" stroke="#d42d55" stroke-width="1.5" />
<circle cx="769.1" cy="209.4" r="3.6" fill="#d42d55" stroke="#6e0f2a" stroke-width="1.0"/>
<text x="783" y="214.4" font-size="15" text-anchor="start" fill="#1a1a1a" textLength="28" lengthAdjust="spacingAndGlyphs" >Data</text>
<g transform="translate(659,271.1) rotate(-90)">
<path d="M1,-9.3 C1.2,-10.6 2.5,-11 4,-11.1 L10.8,-11.6 M7.4,-11.3 L3.6,-0.6 M0,-0.2 L7.6,-0.9 C8.3,-1 8.6,-1.5 8.5,-2" transform="translate(0,0) scale(1.0)" fill="none" stroke="#1a1a1a" stroke-width="1.1" stroke-linecap="round"/>
<path d="M1.8,-13.8 L8,-13.8" stroke="#1a1a1a" stroke-width="1.15"/>
<path d="M14.2,-19.4 L14.2,-9.3 M11.7,-12.3 L14.2,-9.3 L16.7,-12.3" fill="none" stroke="#9a9a9a" stroke-width="1.2"/>
</g>
</g>
</svg>
</body></html>
